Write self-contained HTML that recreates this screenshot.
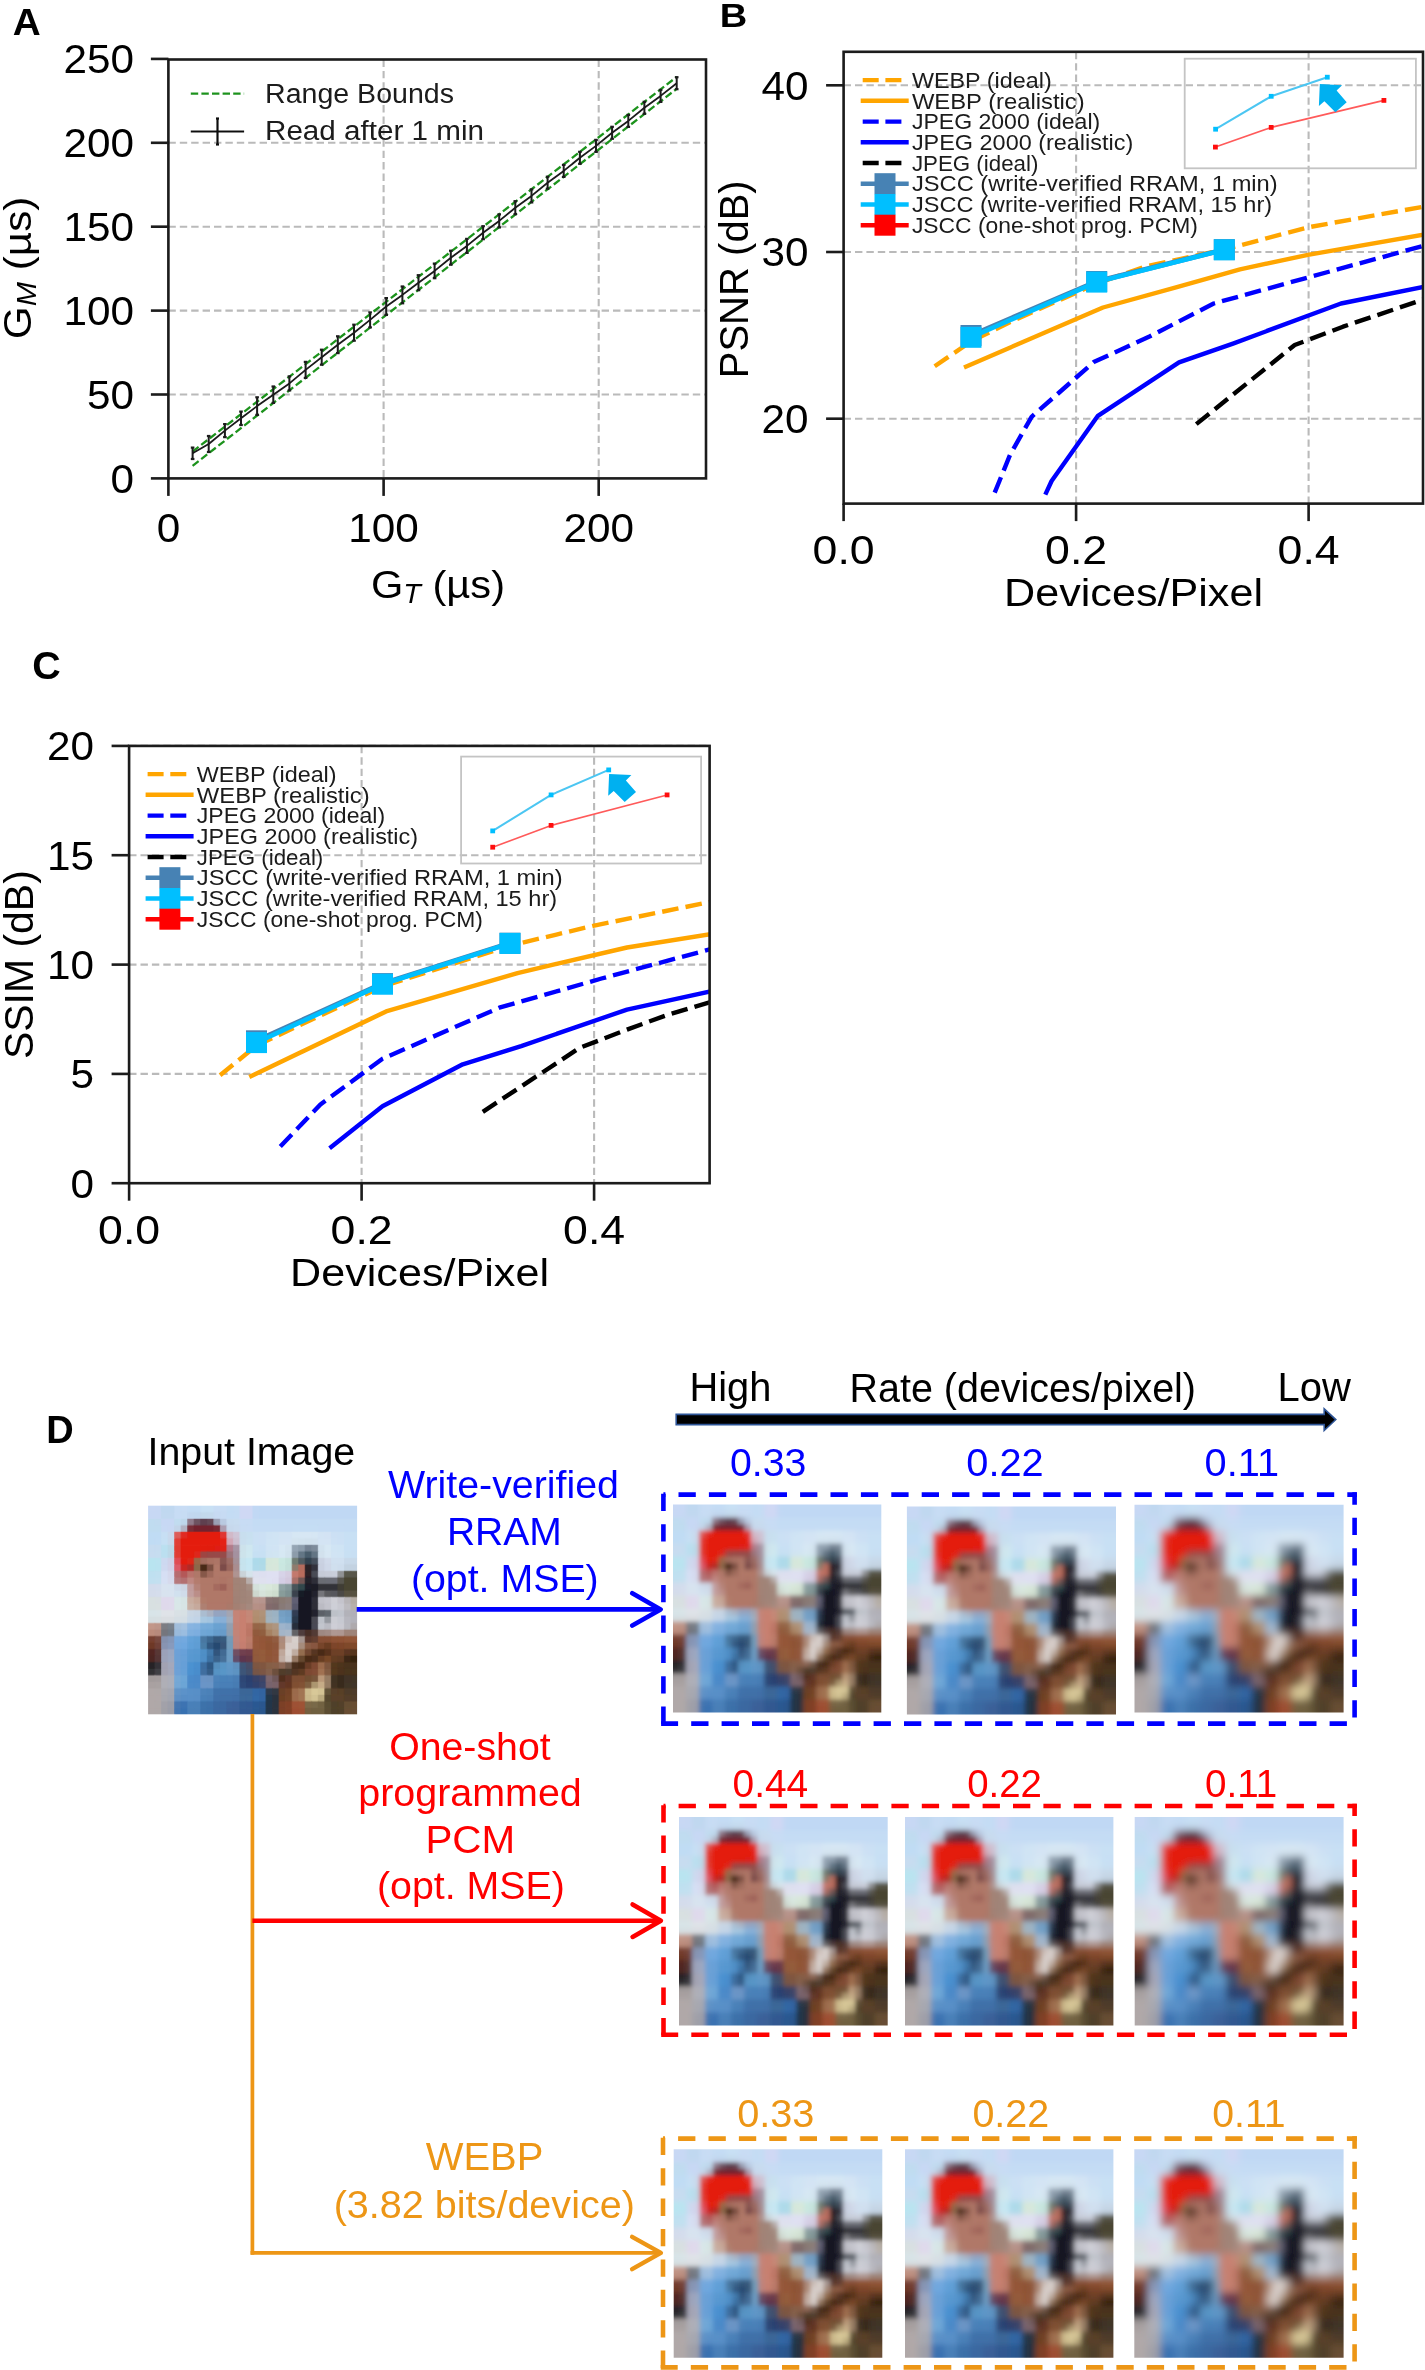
<!DOCTYPE html>
<html><head><meta charset="utf-8"><title>Figure</title>
<style>html,body{margin:0;padding:0;background:#fff;} svg{display:block;} text{font-family:"Liberation Sans", sans-serif;}</style>
</head><body>
<svg width="1425" height="2370" viewBox="0 0 1425 2370">
<rect x="0" y="0" width="1425" height="2370" fill="#fff"/>
<filter id="gblur" x="0" y="0" width="1425" height="2370" filterUnits="userSpaceOnUse"><feGaussianBlur stdDeviation="0.5"/></filter>
<g filter="url(#gblur)">

<clipPath id="clipA"><rect x="168.4" y="59.5" width="537.6" height="418.9"/></clipPath>
<line x1="383.6" y1="59.5" x2="383.6" y2="478.4" stroke="#bababa" stroke-width="2.1" stroke-dasharray="7.4 4"/>
<line x1="598.7" y1="59.5" x2="598.7" y2="478.4" stroke="#bababa" stroke-width="2.1" stroke-dasharray="7.4 4"/>
<line x1="168.4" y1="394.5" x2="706.0" y2="394.5" stroke="#bababa" stroke-width="2.1" stroke-dasharray="7.4 4"/>
<line x1="168.4" y1="310.6" x2="706.0" y2="310.6" stroke="#bababa" stroke-width="2.1" stroke-dasharray="7.4 4"/>
<line x1="168.4" y1="226.7" x2="706.0" y2="226.7" stroke="#bababa" stroke-width="2.1" stroke-dasharray="7.4 4"/>
<line x1="168.4" y1="142.8" x2="706.0" y2="142.8" stroke="#bababa" stroke-width="2.1" stroke-dasharray="7.4 4"/>
<polyline points="192.6,451.6 676.7,76.9" fill="none" stroke="#1f931f" stroke-width="2.3" stroke-linejoin="round" stroke-dasharray="7.6 3.3" clip-path="url(#clipA)"/>
<polyline points="192.6,465.8 676.7,88.8" fill="none" stroke="#1f931f" stroke-width="2.3" stroke-linejoin="round" stroke-dasharray="7.6 3.3" clip-path="url(#clipA)"/>
<polyline points="192.6,453.3 208.7,444.0 224.9,430.6 241.0,418.3 257.1,406.1 273.3,394.7 289.4,383.4 305.6,369.9 321.7,357.2 337.8,344.7 354.0,332.7 370.1,319.9 386.2,306.5 402.4,294.9 418.5,282.7 434.6,270.9 450.8,257.7 466.9,245.9 483.1,232.7 499.2,220.9 515.3,207.7 531.5,195.9 547.6,182.7 563.7,170.9 579.9,157.8 596.0,145.9 612.1,132.8 628.3,120.9 644.4,107.8 660.6,95.9 676.7,83.2" fill="none" stroke="#1a1a1a" stroke-width="1.8" stroke-linejoin="round" clip-path="url(#clipA)"/>
<line x1="192.6" y1="447.6" x2="192.6" y2="459.0" stroke="#1a1a1a" stroke-width="2.0"/>
<line x1="190.8" y1="447.6" x2="194.4" y2="447.6" stroke="#1a1a1a" stroke-width="2.2"/>
<line x1="190.8" y1="459.0" x2="194.4" y2="459.0" stroke="#1a1a1a" stroke-width="2.2"/>
<line x1="208.7" y1="436.0" x2="208.7" y2="452.0" stroke="#1a1a1a" stroke-width="2.0"/>
<line x1="206.9" y1="436.0" x2="210.5" y2="436.0" stroke="#1a1a1a" stroke-width="2.2"/>
<line x1="206.9" y1="452.0" x2="210.5" y2="452.0" stroke="#1a1a1a" stroke-width="2.2"/>
<line x1="224.9" y1="424.1" x2="224.9" y2="437.1" stroke="#1a1a1a" stroke-width="2.0"/>
<line x1="223.1" y1="424.1" x2="226.7" y2="424.1" stroke="#1a1a1a" stroke-width="2.2"/>
<line x1="223.1" y1="437.1" x2="226.7" y2="437.1" stroke="#1a1a1a" stroke-width="2.2"/>
<line x1="241.0" y1="411.6" x2="241.0" y2="425.0" stroke="#1a1a1a" stroke-width="2.0"/>
<line x1="239.2" y1="411.6" x2="242.8" y2="411.6" stroke="#1a1a1a" stroke-width="2.2"/>
<line x1="239.2" y1="425.0" x2="242.8" y2="425.0" stroke="#1a1a1a" stroke-width="2.2"/>
<line x1="257.1" y1="397.3" x2="257.1" y2="414.9" stroke="#1a1a1a" stroke-width="2.0"/>
<line x1="255.3" y1="397.3" x2="258.9" y2="397.3" stroke="#1a1a1a" stroke-width="2.2"/>
<line x1="255.3" y1="414.9" x2="258.9" y2="414.9" stroke="#1a1a1a" stroke-width="2.2"/>
<line x1="273.3" y1="386.5" x2="273.3" y2="402.9" stroke="#1a1a1a" stroke-width="2.0"/>
<line x1="271.5" y1="386.5" x2="275.1" y2="386.5" stroke="#1a1a1a" stroke-width="2.2"/>
<line x1="271.5" y1="402.9" x2="275.1" y2="402.9" stroke="#1a1a1a" stroke-width="2.2"/>
<line x1="289.4" y1="376.4" x2="289.4" y2="390.4" stroke="#1a1a1a" stroke-width="2.0"/>
<line x1="287.6" y1="376.4" x2="291.2" y2="376.4" stroke="#1a1a1a" stroke-width="2.2"/>
<line x1="287.6" y1="390.4" x2="291.2" y2="390.4" stroke="#1a1a1a" stroke-width="2.2"/>
<line x1="305.6" y1="361.9" x2="305.6" y2="377.9" stroke="#1a1a1a" stroke-width="2.0"/>
<line x1="303.8" y1="361.9" x2="307.4" y2="361.9" stroke="#1a1a1a" stroke-width="2.2"/>
<line x1="303.8" y1="377.9" x2="307.4" y2="377.9" stroke="#1a1a1a" stroke-width="2.2"/>
<line x1="321.7" y1="349.7" x2="321.7" y2="364.7" stroke="#1a1a1a" stroke-width="2.0"/>
<line x1="319.9" y1="349.7" x2="323.5" y2="349.7" stroke="#1a1a1a" stroke-width="2.2"/>
<line x1="319.9" y1="364.7" x2="323.5" y2="364.7" stroke="#1a1a1a" stroke-width="2.2"/>
<line x1="337.8" y1="336.3" x2="337.8" y2="353.1" stroke="#1a1a1a" stroke-width="2.0"/>
<line x1="336.0" y1="336.3" x2="339.6" y2="336.3" stroke="#1a1a1a" stroke-width="2.2"/>
<line x1="336.0" y1="353.1" x2="339.6" y2="353.1" stroke="#1a1a1a" stroke-width="2.2"/>
<line x1="354.0" y1="324.7" x2="354.0" y2="340.7" stroke="#1a1a1a" stroke-width="2.0"/>
<line x1="352.2" y1="324.7" x2="355.8" y2="324.7" stroke="#1a1a1a" stroke-width="2.2"/>
<line x1="352.2" y1="340.7" x2="355.8" y2="340.7" stroke="#1a1a1a" stroke-width="2.2"/>
<line x1="370.1" y1="312.4" x2="370.1" y2="327.4" stroke="#1a1a1a" stroke-width="2.0"/>
<line x1="368.3" y1="312.4" x2="371.9" y2="312.4" stroke="#1a1a1a" stroke-width="2.2"/>
<line x1="368.3" y1="327.4" x2="371.9" y2="327.4" stroke="#1a1a1a" stroke-width="2.2"/>
<line x1="386.2" y1="298.1" x2="386.2" y2="314.9" stroke="#1a1a1a" stroke-width="2.0"/>
<line x1="384.4" y1="298.1" x2="388.0" y2="298.1" stroke="#1a1a1a" stroke-width="2.2"/>
<line x1="384.4" y1="314.9" x2="388.0" y2="314.9" stroke="#1a1a1a" stroke-width="2.2"/>
<line x1="402.4" y1="286.5" x2="402.4" y2="303.3" stroke="#1a1a1a" stroke-width="2.0"/>
<line x1="400.6" y1="286.5" x2="404.2" y2="286.5" stroke="#1a1a1a" stroke-width="2.2"/>
<line x1="400.6" y1="303.3" x2="404.2" y2="303.3" stroke="#1a1a1a" stroke-width="2.2"/>
<line x1="418.5" y1="275.2" x2="418.5" y2="290.2" stroke="#1a1a1a" stroke-width="2.0"/>
<line x1="416.7" y1="275.2" x2="420.3" y2="275.2" stroke="#1a1a1a" stroke-width="2.2"/>
<line x1="416.7" y1="290.2" x2="420.3" y2="290.2" stroke="#1a1a1a" stroke-width="2.2"/>
<line x1="434.6" y1="263.6" x2="434.6" y2="278.2" stroke="#1a1a1a" stroke-width="2.0"/>
<line x1="432.8" y1="263.6" x2="436.4" y2="263.6" stroke="#1a1a1a" stroke-width="2.2"/>
<line x1="432.8" y1="278.2" x2="436.4" y2="278.2" stroke="#1a1a1a" stroke-width="2.2"/>
<line x1="450.8" y1="250.7" x2="450.8" y2="264.7" stroke="#1a1a1a" stroke-width="2.0"/>
<line x1="449.0" y1="250.7" x2="452.6" y2="250.7" stroke="#1a1a1a" stroke-width="2.2"/>
<line x1="449.0" y1="264.7" x2="452.6" y2="264.7" stroke="#1a1a1a" stroke-width="2.2"/>
<line x1="466.9" y1="238.9" x2="466.9" y2="252.9" stroke="#1a1a1a" stroke-width="2.0"/>
<line x1="465.1" y1="238.9" x2="468.7" y2="238.9" stroke="#1a1a1a" stroke-width="2.2"/>
<line x1="465.1" y1="252.9" x2="468.7" y2="252.9" stroke="#1a1a1a" stroke-width="2.2"/>
<line x1="483.1" y1="226.2" x2="483.1" y2="239.2" stroke="#1a1a1a" stroke-width="2.0"/>
<line x1="481.3" y1="226.2" x2="484.9" y2="226.2" stroke="#1a1a1a" stroke-width="2.2"/>
<line x1="481.3" y1="239.2" x2="484.9" y2="239.2" stroke="#1a1a1a" stroke-width="2.2"/>
<line x1="499.2" y1="214.4" x2="499.2" y2="227.4" stroke="#1a1a1a" stroke-width="2.0"/>
<line x1="497.4" y1="214.4" x2="501.0" y2="214.4" stroke="#1a1a1a" stroke-width="2.2"/>
<line x1="497.4" y1="227.4" x2="501.0" y2="227.4" stroke="#1a1a1a" stroke-width="2.2"/>
<line x1="515.3" y1="201.2" x2="515.3" y2="214.2" stroke="#1a1a1a" stroke-width="2.0"/>
<line x1="513.5" y1="201.2" x2="517.1" y2="201.2" stroke="#1a1a1a" stroke-width="2.2"/>
<line x1="513.5" y1="214.2" x2="517.1" y2="214.2" stroke="#1a1a1a" stroke-width="2.2"/>
<line x1="531.5" y1="189.4" x2="531.5" y2="202.4" stroke="#1a1a1a" stroke-width="2.0"/>
<line x1="529.7" y1="189.4" x2="533.3" y2="189.4" stroke="#1a1a1a" stroke-width="2.2"/>
<line x1="529.7" y1="202.4" x2="533.3" y2="202.4" stroke="#1a1a1a" stroke-width="2.2"/>
<line x1="547.6" y1="176.7" x2="547.6" y2="188.7" stroke="#1a1a1a" stroke-width="2.0"/>
<line x1="545.8" y1="176.7" x2="549.4" y2="176.7" stroke="#1a1a1a" stroke-width="2.2"/>
<line x1="545.8" y1="188.7" x2="549.4" y2="188.7" stroke="#1a1a1a" stroke-width="2.2"/>
<line x1="563.7" y1="164.9" x2="563.7" y2="176.9" stroke="#1a1a1a" stroke-width="2.0"/>
<line x1="561.9" y1="164.9" x2="565.5" y2="164.9" stroke="#1a1a1a" stroke-width="2.2"/>
<line x1="561.9" y1="176.9" x2="565.5" y2="176.9" stroke="#1a1a1a" stroke-width="2.2"/>
<line x1="579.9" y1="151.8" x2="579.9" y2="163.8" stroke="#1a1a1a" stroke-width="2.0"/>
<line x1="578.1" y1="151.8" x2="581.7" y2="151.8" stroke="#1a1a1a" stroke-width="2.2"/>
<line x1="578.1" y1="163.8" x2="581.7" y2="163.8" stroke="#1a1a1a" stroke-width="2.2"/>
<line x1="596.0" y1="139.9" x2="596.0" y2="151.9" stroke="#1a1a1a" stroke-width="2.0"/>
<line x1="594.2" y1="139.9" x2="597.8" y2="139.9" stroke="#1a1a1a" stroke-width="2.2"/>
<line x1="594.2" y1="151.9" x2="597.8" y2="151.9" stroke="#1a1a1a" stroke-width="2.2"/>
<line x1="612.1" y1="126.8" x2="612.1" y2="138.8" stroke="#1a1a1a" stroke-width="2.0"/>
<line x1="610.3" y1="126.8" x2="613.9" y2="126.8" stroke="#1a1a1a" stroke-width="2.2"/>
<line x1="610.3" y1="138.8" x2="613.9" y2="138.8" stroke="#1a1a1a" stroke-width="2.2"/>
<line x1="628.3" y1="114.9" x2="628.3" y2="126.9" stroke="#1a1a1a" stroke-width="2.0"/>
<line x1="626.5" y1="114.9" x2="630.1" y2="114.9" stroke="#1a1a1a" stroke-width="2.2"/>
<line x1="626.5" y1="126.9" x2="630.1" y2="126.9" stroke="#1a1a1a" stroke-width="2.2"/>
<line x1="644.4" y1="101.8" x2="644.4" y2="113.8" stroke="#1a1a1a" stroke-width="2.0"/>
<line x1="642.6" y1="101.8" x2="646.2" y2="101.8" stroke="#1a1a1a" stroke-width="2.2"/>
<line x1="642.6" y1="113.8" x2="646.2" y2="113.8" stroke="#1a1a1a" stroke-width="2.2"/>
<line x1="660.6" y1="89.9" x2="660.6" y2="101.9" stroke="#1a1a1a" stroke-width="2.0"/>
<line x1="658.8" y1="89.9" x2="662.4" y2="89.9" stroke="#1a1a1a" stroke-width="2.2"/>
<line x1="658.8" y1="101.9" x2="662.4" y2="101.9" stroke="#1a1a1a" stroke-width="2.2"/>
<line x1="676.7" y1="77.2" x2="676.7" y2="89.2" stroke="#1a1a1a" stroke-width="2.0"/>
<line x1="674.9" y1="77.2" x2="678.5" y2="77.2" stroke="#1a1a1a" stroke-width="2.2"/>
<line x1="674.9" y1="89.2" x2="678.5" y2="89.2" stroke="#1a1a1a" stroke-width="2.2"/>
<rect x="168.4" y="59.5" width="537.6" height="418.9" fill="none" stroke="#1a1a1a" stroke-width="2.6"/>
<line x1="168.4" y1="478.4" x2="168.4" y2="495.9" stroke="#1a1a1a" stroke-width="2.6"/>
<line x1="383.6" y1="478.4" x2="383.6" y2="495.9" stroke="#1a1a1a" stroke-width="2.6"/>
<line x1="598.7" y1="478.4" x2="598.7" y2="495.9" stroke="#1a1a1a" stroke-width="2.6"/>
<line x1="150.9" y1="478.4" x2="168.4" y2="478.4" stroke="#1a1a1a" stroke-width="2.6"/>
<line x1="150.9" y1="394.5" x2="168.4" y2="394.5" stroke="#1a1a1a" stroke-width="2.6"/>
<line x1="150.9" y1="310.6" x2="168.4" y2="310.6" stroke="#1a1a1a" stroke-width="2.6"/>
<line x1="150.9" y1="226.7" x2="168.4" y2="226.7" stroke="#1a1a1a" stroke-width="2.6"/>
<line x1="150.9" y1="142.8" x2="168.4" y2="142.8" stroke="#1a1a1a" stroke-width="2.6"/>
<line x1="150.9" y1="58.9" x2="168.4" y2="58.9" stroke="#1a1a1a" stroke-width="2.6"/>
<text x="134.0" y="492.8" font-size="40" fill="#000" text-anchor="end" textLength="23.5" lengthAdjust="spacingAndGlyphs">0</text>
<text x="134.0" y="408.9" font-size="40" fill="#000" text-anchor="end" textLength="47.0" lengthAdjust="spacingAndGlyphs">50</text>
<text x="134.0" y="325.0" font-size="40" fill="#000" text-anchor="end" textLength="70.5" lengthAdjust="spacingAndGlyphs">100</text>
<text x="134.0" y="241.1" font-size="40" fill="#000" text-anchor="end" textLength="70.5" lengthAdjust="spacingAndGlyphs">150</text>
<text x="134.0" y="157.2" font-size="40" fill="#000" text-anchor="end" textLength="70.5" lengthAdjust="spacingAndGlyphs">200</text>
<text x="134.0" y="73.3" font-size="40" fill="#000" text-anchor="end" textLength="70.5" lengthAdjust="spacingAndGlyphs">250</text>
<text x="168.4" y="541.5" font-size="40" fill="#000" text-anchor="middle" textLength="23.5" lengthAdjust="spacingAndGlyphs">0</text>
<text x="383.6" y="541.5" font-size="40" fill="#000" text-anchor="middle" textLength="70.5" lengthAdjust="spacingAndGlyphs">100</text>
<text x="598.7" y="541.5" font-size="40" fill="#000" text-anchor="middle" textLength="70.5" lengthAdjust="spacingAndGlyphs">200</text>
<text x="371" y="597.5" font-size="39" fill="#000" textLength="134" lengthAdjust="spacingAndGlyphs">G<tspan font-size="27" font-style="italic" dy="5">T</tspan><tspan dy="-5"> (µs)</tspan></text>
<text transform="translate(30.5,339.2) rotate(-90)" font-size="39" fill="#000" textLength="142.6" lengthAdjust="spacingAndGlyphs">G<tspan font-size="27" font-style="italic" dy="5">M</tspan><tspan dy="-5"> (µs)</tspan></text>
<line x1="190.8" y1="93.6" x2="244.1" y2="93.6" stroke="#1f931f" stroke-width="2.4" stroke-dasharray="7.4 3.2"/>
<line x1="190.8" y1="131.5" x2="244.1" y2="131.5" stroke="#111" stroke-width="2.2"/>
<line x1="217.5" y1="118.5" x2="217.5" y2="144.5" stroke="#111" stroke-width="2.2"/>
<line x1="216.0" y1="118.5" x2="219.0" y2="118.5" stroke="#111" stroke-width="2.2"/>
<line x1="216.0" y1="144.5" x2="219.0" y2="144.5" stroke="#111" stroke-width="2.2"/>
<text x="265.0" y="102.8" font-size="27" fill="#1a1a1a" text-anchor="start" textLength="189.0" lengthAdjust="spacingAndGlyphs">Range Bounds</text>
<text x="265.0" y="139.9" font-size="27" fill="#1a1a1a" text-anchor="start" textLength="219.0" lengthAdjust="spacingAndGlyphs">Read after 1 min</text>
<text x="12.8" y="35.4" font-size="37" fill="#000" text-anchor="start" font-weight="bold" textLength="28.0" lengthAdjust="spacingAndGlyphs">A</text>
<clipPath id="clipB"><rect x="843.6" y="51.8" width="579.4" height="451.8"/></clipPath>
<line x1="1076.1" y1="51.8" x2="1076.1" y2="503.6" stroke="#bababa" stroke-width="2.1" stroke-dasharray="7.4 4"/>
<line x1="1308.6" y1="51.8" x2="1308.6" y2="503.6" stroke="#bababa" stroke-width="2.1" stroke-dasharray="7.4 4"/>
<line x1="843.6" y1="418.7" x2="1423.0" y2="418.7" stroke="#bababa" stroke-width="2.1" stroke-dasharray="7.4 4"/>
<line x1="843.6" y1="252.0" x2="1423.0" y2="252.0" stroke="#bababa" stroke-width="2.1" stroke-dasharray="7.4 4"/>
<line x1="843.6" y1="85.3" x2="1423.0" y2="85.3" stroke="#bababa" stroke-width="2.1" stroke-dasharray="7.4 4"/>
<polyline points="934.7,366.3 971.0,341.5 1009.8,322.3 1096.7,283.5 1144.6,266.8 1224.3,249.5 1308.0,227.3 1430.0,205.5" fill="none" stroke="#ffa500" stroke-width="4.4" stroke-linejoin="round" stroke-dasharray="16.6 7.2" clip-path="url(#clipB)"/>
<polyline points="964.0,367.4 1103.0,307.5 1176.0,287.3 1240.0,269.3 1307.9,254.9 1430.0,233.5" fill="none" stroke="#ffa500" stroke-width="4.4" stroke-linejoin="round" clip-path="url(#clipB)"/>
<polyline points="994.7,492.6 1010.0,455.0 1031.6,416.8 1093.7,362.1 1150.0,336.3 1213.7,303.5 1307.9,277.5 1430.0,244.0" fill="none" stroke="#0000ff" stroke-width="4.4" stroke-linejoin="round" stroke-dasharray="16.6 7.2" clip-path="url(#clipB)"/>
<polyline points="1045.3,494.7 1051.6,481.0 1097.9,415.8 1179.0,362.4 1233.0,343.6 1341.0,303.5 1430.0,285.6" fill="none" stroke="#0000ff" stroke-width="4.4" stroke-linejoin="round" clip-path="url(#clipB)"/>
<polyline points="1196.3,424.1 1294.7,345.0 1343.0,326.7 1430.0,297.2" fill="none" stroke="#000" stroke-width="4.4" stroke-linejoin="round" stroke-dasharray="16.6 7.2" clip-path="url(#clipB)"/>
<polyline points="971.0,335.5 1096.7,281.5 1224.3,249.6" fill="none" stroke="#4682b4" stroke-width="5.0" stroke-linejoin="round" clip-path="url(#clipB)"/>
<rect x="960.5" y="325.0" width="21" height="21" fill="#4682b4"/>
<rect x="1086.2" y="271.0" width="21" height="21" fill="#4682b4"/>
<rect x="1213.8" y="239.1" width="21" height="21" fill="#4682b4"/>
<polyline points="971.0,337.3 1096.7,282.1 1224.3,249.8" fill="none" stroke="#00bfff" stroke-width="4.6" stroke-linejoin="round" clip-path="url(#clipB)"/>
<rect x="960.5" y="326.8" width="21" height="21" fill="#00bfff"/>
<rect x="1086.2" y="271.6" width="21" height="21" fill="#00bfff"/>
<rect x="1213.8" y="239.3" width="21" height="21" fill="#00bfff"/>
<line x1="862.7" y1="80.1" x2="901.4" y2="80.1" stroke="#ffa500" stroke-width="4.4" stroke-dasharray="16 6.7"/>
<text x="911.9" y="87.8" font-size="22" fill="#1a1a1a" text-anchor="start" textLength="139.8" lengthAdjust="spacingAndGlyphs">WEBP (ideal)</text>
<line x1="860.7" y1="100.8" x2="908.7" y2="100.8" stroke="#ffa500" stroke-width="4.4"/>
<text x="911.9" y="108.5" font-size="22" fill="#1a1a1a" text-anchor="start" textLength="172.8" lengthAdjust="spacingAndGlyphs">WEBP (realistic)</text>
<line x1="862.7" y1="121.6" x2="901.4" y2="121.6" stroke="#0000ff" stroke-width="4.4" stroke-dasharray="16 6.7"/>
<text x="911.9" y="129.3" font-size="22" fill="#1a1a1a" text-anchor="start" textLength="188.3" lengthAdjust="spacingAndGlyphs">JPEG 2000 (ideal)</text>
<line x1="860.7" y1="142.3" x2="908.7" y2="142.3" stroke="#0000ff" stroke-width="4.4"/>
<text x="911.9" y="150.0" font-size="22" fill="#1a1a1a" text-anchor="start" textLength="221.3" lengthAdjust="spacingAndGlyphs">JPEG 2000 (realistic)</text>
<line x1="862.7" y1="163.0" x2="901.4" y2="163.0" stroke="#000" stroke-width="4.4" stroke-dasharray="16 6.7"/>
<text x="911.9" y="170.7" font-size="22" fill="#1a1a1a" text-anchor="start" textLength="126.5" lengthAdjust="spacingAndGlyphs">JPEG (ideal)</text>
<line x1="860.7" y1="183.8" x2="908.7" y2="183.8" stroke="#4682b4" stroke-width="4.4"/>
<rect x="874.5" y="173.2" width="21" height="21" fill="#4682b4"/>
<text x="911.9" y="191.4" font-size="22" fill="#1a1a1a" text-anchor="start" textLength="365.8" lengthAdjust="spacingAndGlyphs">JSCC (write-verified RRAM, 1 min)</text>
<line x1="860.7" y1="204.5" x2="908.7" y2="204.5" stroke="#00bfff" stroke-width="4.4"/>
<rect x="874.5" y="194.0" width="21" height="21" fill="#00bfff"/>
<text x="911.9" y="212.2" font-size="22" fill="#1a1a1a" text-anchor="start" textLength="360.3" lengthAdjust="spacingAndGlyphs">JSCC (write-verified RRAM, 15 hr)</text>
<line x1="860.7" y1="225.2" x2="908.7" y2="225.2" stroke="red" stroke-width="4.4"/>
<rect x="874.5" y="214.7" width="21" height="21" fill="red"/>
<text x="911.9" y="232.9" font-size="22" fill="#1a1a1a" text-anchor="start" textLength="286.1" lengthAdjust="spacingAndGlyphs">JSCC (one-shot prog. PCM)</text>
<rect x="1184.7" y="58.7" width="231.20000000000005" height="109.60000000000001" fill="none" stroke="#c4c4c4" stroke-width="1.8"/>
<polyline points="1215.6,129.2 1271.2,96.3 1327.3,77.2" fill="none" stroke="#4cc6f2" stroke-width="2.0" stroke-linejoin="round"/>
<rect x="1213.2" y="126.8" width="4.8" height="4.8" fill="#00bfff"/>
<rect x="1268.8" y="93.9" width="4.8" height="4.8" fill="#00bfff"/>
<rect x="1324.9" y="74.8" width="4.8" height="4.8" fill="#00bfff"/>
<polyline points="1215.4,147.1 1271.2,127.4 1383.9,100.4" fill="none" stroke="#ff5a5a" stroke-width="1.6" stroke-linejoin="round"/>
<rect x="1213.0" y="144.7" width="4.8" height="4.8" fill="#ff1010"/>
<rect x="1268.8" y="125.0" width="4.8" height="4.8" fill="#ff1010"/>
<rect x="1381.5" y="98.0" width="4.8" height="4.8" fill="#ff1010"/>
<polygon points="1319.8,84.1 1342.1,85.2 1336.6,90.6 1346.7,102.2 1335.4,112.3 1324.4,101.2 1318.9,106.0" fill="#00b0f0"/>
<rect x="843.6" y="51.8" width="579.4" height="451.8" fill="none" stroke="#1a1a1a" stroke-width="2.6"/>
<line x1="843.6" y1="503.6" x2="843.6" y2="521.1" stroke="#1a1a1a" stroke-width="2.6"/>
<text x="843.6" y="564.1" font-size="40" fill="#000" text-anchor="middle" textLength="62.0" lengthAdjust="spacingAndGlyphs">0.0</text>
<line x1="1076.1" y1="503.6" x2="1076.1" y2="521.1" stroke="#1a1a1a" stroke-width="2.6"/>
<text x="1076.1" y="564.1" font-size="40" fill="#000" text-anchor="middle" textLength="62.0" lengthAdjust="spacingAndGlyphs">0.2</text>
<line x1="1308.6" y1="503.6" x2="1308.6" y2="521.1" stroke="#1a1a1a" stroke-width="2.6"/>
<text x="1308.6" y="564.1" font-size="40" fill="#000" text-anchor="middle" textLength="62.0" lengthAdjust="spacingAndGlyphs">0.4</text>
<line x1="826.1" y1="418.7" x2="843.6" y2="418.7" stroke="#1a1a1a" stroke-width="2.6"/>
<text x="808.6" y="433.1" font-size="40" fill="#000" text-anchor="end" textLength="47.0" lengthAdjust="spacingAndGlyphs">20</text>
<line x1="826.1" y1="252.0" x2="843.6" y2="252.0" stroke="#1a1a1a" stroke-width="2.6"/>
<text x="808.6" y="266.4" font-size="40" fill="#000" text-anchor="end" textLength="47.0" lengthAdjust="spacingAndGlyphs">30</text>
<line x1="826.1" y1="85.3" x2="843.6" y2="85.3" stroke="#1a1a1a" stroke-width="2.6"/>
<text x="808.6" y="99.7" font-size="40" fill="#000" text-anchor="end" textLength="47.0" lengthAdjust="spacingAndGlyphs">40</text>
<text x="1004.0" y="606.2" font-size="39" fill="#000" text-anchor="start" textLength="259.0" lengthAdjust="spacingAndGlyphs">Devices/Pixel</text>
<text transform="translate(747.5,378.3) rotate(-90)" font-size="40" fill="#000" textLength="198" lengthAdjust="spacingAndGlyphs">PSNR (dB)</text>
<text x="719.8" y="27.4" font-size="33" fill="#000" text-anchor="start" font-weight="bold" textLength="27.5" lengthAdjust="spacingAndGlyphs">B</text>
<clipPath id="clipC"><rect x="129.1" y="745.9" width="580.5" height="437.30000000000007"/></clipPath>
<line x1="361.6" y1="745.9" x2="361.6" y2="1183.2" stroke="#bababa" stroke-width="2.1" stroke-dasharray="7.4 4"/>
<line x1="594.1" y1="745.9" x2="594.1" y2="1183.2" stroke="#bababa" stroke-width="2.1" stroke-dasharray="7.4 4"/>
<line x1="129.1" y1="1073.9" x2="709.6" y2="1073.9" stroke="#bababa" stroke-width="2.1" stroke-dasharray="7.4 4"/>
<line x1="129.1" y1="964.6" x2="709.6" y2="964.6" stroke="#bababa" stroke-width="2.1" stroke-dasharray="7.4 4"/>
<line x1="129.1" y1="855.2" x2="709.6" y2="855.2" stroke="#bababa" stroke-width="2.1" stroke-dasharray="7.4 4"/>
<line x1="129.1" y1="745.9" x2="709.6" y2="745.9" stroke="#bababa" stroke-width="2.1" stroke-dasharray="7.4 4"/>
<polyline points="220.1,1075.3 256.5,1045.5 382.5,986.5 510.2,945.5 594.2,925.6 715.0,901.0" fill="none" stroke="#ffa500" stroke-width="4.4" stroke-linejoin="round" stroke-dasharray="16.6 7.2" clip-path="url(#clipC)"/>
<polyline points="249.3,1077.1 386.1,1011.4 517.5,973.1 627.0,947.5 715.0,933.5" fill="none" stroke="#ffa500" stroke-width="4.4" stroke-linejoin="round" clip-path="url(#clipC)"/>
<polyline points="280.3,1146.4 320.4,1104.5 382.5,1058.8 499.3,1007.7 601.5,978.5 715.0,948.0" fill="none" stroke="#0000ff" stroke-width="4.4" stroke-linejoin="round" stroke-dasharray="16.6 7.2" clip-path="url(#clipC)"/>
<polyline points="329.6,1148.2 382.5,1106.3 462.8,1064.3 521.2,1046.1 627.0,1009.6 715.0,990.5" fill="none" stroke="#0000ff" stroke-width="4.4" stroke-linejoin="round" clip-path="url(#clipC)"/>
<polyline points="482.8,1111.8 579.6,1047.9 627.0,1029.6 667.2,1015.0 715.0,1000.8" fill="none" stroke="#000" stroke-width="4.4" stroke-linejoin="round" stroke-dasharray="16.6 7.2" clip-path="url(#clipC)"/>
<polyline points="256.5,1040.8 382.5,983.6 510.0,943.2" fill="none" stroke="#4682b4" stroke-width="5.0" stroke-linejoin="round" clip-path="url(#clipC)"/>
<rect x="246.0" y="1030.3" width="21" height="21" fill="#4682b4"/>
<rect x="372.0" y="973.1" width="21" height="21" fill="#4682b4"/>
<rect x="499.5" y="932.7" width="21" height="21" fill="#4682b4"/>
<polyline points="256.5,1042.6 382.5,984.2 510.0,943.4" fill="none" stroke="#00bfff" stroke-width="4.6" stroke-linejoin="round" clip-path="url(#clipC)"/>
<rect x="246.0" y="1032.1" width="21" height="21" fill="#00bfff"/>
<rect x="372.0" y="973.7" width="21" height="21" fill="#00bfff"/>
<rect x="499.5" y="932.9" width="21" height="21" fill="#00bfff"/>
<line x1="147.6" y1="774.1" x2="186.3" y2="774.1" stroke="#ffa500" stroke-width="4.4" stroke-dasharray="16 6.7"/>
<text x="196.8" y="781.8" font-size="22" fill="#1a1a1a" text-anchor="start" textLength="139.8" lengthAdjust="spacingAndGlyphs">WEBP (ideal)</text>
<line x1="145.6" y1="794.8" x2="193.6" y2="794.8" stroke="#ffa500" stroke-width="4.4"/>
<text x="196.8" y="802.5" font-size="22" fill="#1a1a1a" text-anchor="start" textLength="172.8" lengthAdjust="spacingAndGlyphs">WEBP (realistic)</text>
<line x1="147.6" y1="815.6" x2="186.3" y2="815.6" stroke="#0000ff" stroke-width="4.4" stroke-dasharray="16 6.7"/>
<text x="196.8" y="823.3" font-size="22" fill="#1a1a1a" text-anchor="start" textLength="188.3" lengthAdjust="spacingAndGlyphs">JPEG 2000 (ideal)</text>
<line x1="145.6" y1="836.3" x2="193.6" y2="836.3" stroke="#0000ff" stroke-width="4.4"/>
<text x="196.8" y="844.0" font-size="22" fill="#1a1a1a" text-anchor="start" textLength="221.3" lengthAdjust="spacingAndGlyphs">JPEG 2000 (realistic)</text>
<line x1="147.6" y1="857.0" x2="186.3" y2="857.0" stroke="#000" stroke-width="4.4" stroke-dasharray="16 6.7"/>
<text x="196.8" y="864.7" font-size="22" fill="#1a1a1a" text-anchor="start" textLength="126.5" lengthAdjust="spacingAndGlyphs">JPEG (ideal)</text>
<line x1="145.6" y1="877.7" x2="193.6" y2="877.7" stroke="#4682b4" stroke-width="4.4"/>
<rect x="159.4" y="867.2" width="21" height="21" fill="#4682b4"/>
<text x="196.8" y="885.4" font-size="22" fill="#1a1a1a" text-anchor="start" textLength="365.8" lengthAdjust="spacingAndGlyphs">JSCC (write-verified RRAM, 1 min)</text>
<line x1="145.6" y1="898.5" x2="193.6" y2="898.5" stroke="#00bfff" stroke-width="4.4"/>
<rect x="159.4" y="888.0" width="21" height="21" fill="#00bfff"/>
<text x="196.8" y="906.2" font-size="22" fill="#1a1a1a" text-anchor="start" textLength="360.3" lengthAdjust="spacingAndGlyphs">JSCC (write-verified RRAM, 15 hr)</text>
<line x1="145.6" y1="919.2" x2="193.6" y2="919.2" stroke="red" stroke-width="4.4"/>
<rect x="159.4" y="908.7" width="21" height="21" fill="red"/>
<text x="196.8" y="926.9" font-size="22" fill="#1a1a1a" text-anchor="start" textLength="286.1" lengthAdjust="spacingAndGlyphs">JSCC (one-shot prog. PCM)</text>
<rect x="461.1" y="756.6" width="240.0" height="106.89999999999998" fill="none" stroke="#c4c4c4" stroke-width="1.8"/>
<polyline points="492.7,830.9 551.1,794.9 608.7,769.9" fill="none" stroke="#4cc6f2" stroke-width="2.0" stroke-linejoin="round"/>
<rect x="490.3" y="828.5" width="4.8" height="4.8" fill="#00bfff"/>
<rect x="548.7" y="792.5" width="4.8" height="4.8" fill="#00bfff"/>
<rect x="606.3" y="767.5" width="4.8" height="4.8" fill="#00bfff"/>
<polyline points="492.7,847.2 551.1,825.4 667.1,794.9" fill="none" stroke="#ff5a5a" stroke-width="1.6" stroke-linejoin="round"/>
<rect x="490.3" y="844.8" width="4.8" height="4.8" fill="#ff1010"/>
<rect x="548.7" y="823.0" width="4.8" height="4.8" fill="#ff1010"/>
<rect x="664.7" y="792.5" width="4.8" height="4.8" fill="#ff1010"/>
<polygon points="609.1,773.9 631.4,775.0 625.9,780.4 636.0,792.0 624.7,802.1 613.7,791.0 608.2,795.8" fill="#00b0f0"/>
<rect x="129.1" y="745.9" width="580.5" height="437.30000000000007" fill="none" stroke="#1a1a1a" stroke-width="2.6"/>
<line x1="129.1" y1="1183.2" x2="129.1" y2="1200.7" stroke="#1a1a1a" stroke-width="2.6"/>
<text x="129.1" y="1243.7" font-size="40" fill="#000" text-anchor="middle" textLength="62.0" lengthAdjust="spacingAndGlyphs">0.0</text>
<line x1="361.6" y1="1183.2" x2="361.6" y2="1200.7" stroke="#1a1a1a" stroke-width="2.6"/>
<text x="361.6" y="1243.7" font-size="40" fill="#000" text-anchor="middle" textLength="62.0" lengthAdjust="spacingAndGlyphs">0.2</text>
<line x1="594.1" y1="1183.2" x2="594.1" y2="1200.7" stroke="#1a1a1a" stroke-width="2.6"/>
<text x="594.1" y="1243.7" font-size="40" fill="#000" text-anchor="middle" textLength="62.0" lengthAdjust="spacingAndGlyphs">0.4</text>
<line x1="111.6" y1="1183.2" x2="129.1" y2="1183.2" stroke="#1a1a1a" stroke-width="2.6"/>
<text x="94.1" y="1197.6" font-size="40" fill="#000" text-anchor="end" textLength="23.5" lengthAdjust="spacingAndGlyphs">0</text>
<line x1="111.6" y1="1073.9" x2="129.1" y2="1073.9" stroke="#1a1a1a" stroke-width="2.6"/>
<text x="94.1" y="1088.3" font-size="40" fill="#000" text-anchor="end" textLength="23.5" lengthAdjust="spacingAndGlyphs">5</text>
<line x1="111.6" y1="964.6" x2="129.1" y2="964.6" stroke="#1a1a1a" stroke-width="2.6"/>
<text x="94.1" y="979.0" font-size="40" fill="#000" text-anchor="end" textLength="47.0" lengthAdjust="spacingAndGlyphs">10</text>
<line x1="111.6" y1="855.2" x2="129.1" y2="855.2" stroke="#1a1a1a" stroke-width="2.6"/>
<text x="94.1" y="869.6" font-size="40" fill="#000" text-anchor="end" textLength="47.0" lengthAdjust="spacingAndGlyphs">15</text>
<line x1="111.6" y1="745.9" x2="129.1" y2="745.9" stroke="#1a1a1a" stroke-width="2.6"/>
<text x="94.1" y="760.3" font-size="40" fill="#000" text-anchor="end" textLength="47.0" lengthAdjust="spacingAndGlyphs">20</text>
<text x="290.0" y="1286.0" font-size="39" fill="#000" text-anchor="start" textLength="259.0" lengthAdjust="spacingAndGlyphs">Devices/Pixel</text>
<text transform="translate(33,1059) rotate(-90)" font-size="40" fill="#000" textLength="188.8" lengthAdjust="spacingAndGlyphs">SSIM (dB)</text>
<text x="32.2" y="679.0" font-size="38" fill="#000" text-anchor="start" font-weight="bold" textLength="28.5" lengthAdjust="spacingAndGlyphs">C</text>
<defs>
<g id="photo"><rect x="-2" y="-2" width="3.12" height="1.12" fill="#c8d8f4"/><rect x="1" y="-2" width="1.12" height="1.12" fill="#c7d8f4"/><rect x="2" y="-2" width="2.12" height="1.12" fill="#c0d8f0"/><rect x="4" y="-2" width="1.12" height="1.12" fill="#c7dcf4"/><rect x="5" y="-2" width="1.12" height="1.12" fill="#c8dcf4"/><rect x="6" y="-2" width="2.12" height="1.12" fill="#c4dcf4"/><rect x="8" y="-2" width="2.12" height="1.12" fill="#c8e0f4"/><rect x="10" y="-2" width="2.12" height="1.12" fill="#c8dcf4"/><rect x="12" y="-2" width="1.12" height="1.12" fill="#c4dcf4"/><rect x="13" y="-2" width="1.12" height="1.12" fill="#c5dcf4"/><rect x="14" y="-2" width="2.12" height="1.12" fill="#cfd8f4"/><rect x="16" y="-2" width="1.12" height="1.12" fill="#c1d8f4"/><rect x="17" y="-2" width="17.12" height="1.12" fill="#c0d8f4"/><rect x="-2" y="-1" width="3.12" height="1.12" fill="#c8d8f4"/><rect x="1" y="-1" width="1.12" height="1.12" fill="#c7d8f4"/><rect x="2" y="-1" width="2.12" height="1.12" fill="#c0d8f0"/><rect x="4" y="-1" width="1.12" height="1.12" fill="#c7dcf4"/><rect x="5" y="-1" width="1.12" height="1.12" fill="#c8dcf4"/><rect x="6" y="-1" width="2.12" height="1.12" fill="#c4dcf4"/><rect x="8" y="-1" width="2.12" height="1.12" fill="#c8e0f4"/><rect x="10" y="-1" width="2.12" height="1.12" fill="#c8dcf4"/><rect x="12" y="-1" width="1.12" height="1.12" fill="#c4dcf4"/><rect x="13" y="-1" width="1.12" height="1.12" fill="#c5dcf4"/><rect x="14" y="-1" width="2.12" height="1.12" fill="#cfd8f4"/><rect x="16" y="-1" width="1.12" height="1.12" fill="#c1d8f4"/><rect x="17" y="-1" width="17.12" height="1.12" fill="#c0d8f4"/><rect x="-2" y="0" width="3.12" height="1.12" fill="#c8d8f4"/><rect x="1" y="0" width="1.12" height="1.12" fill="#c7d8f4"/><rect x="2" y="0" width="2.12" height="1.12" fill="#c0d8f0"/><rect x="4" y="0" width="1.12" height="1.12" fill="#c7dcf4"/><rect x="5" y="0" width="1.12" height="1.12" fill="#c8dcf4"/><rect x="6" y="0" width="2.12" height="1.12" fill="#c4dcf4"/><rect x="8" y="0" width="2.12" height="1.12" fill="#c8e0f4"/><rect x="10" y="0" width="2.12" height="1.12" fill="#c8dcf4"/><rect x="12" y="0" width="1.12" height="1.12" fill="#c4dcf4"/><rect x="13" y="0" width="1.12" height="1.12" fill="#c5dcf4"/><rect x="14" y="0" width="2.12" height="1.12" fill="#cfd8f4"/><rect x="16" y="0" width="1.12" height="1.12" fill="#c1d8f4"/><rect x="17" y="0" width="17.12" height="1.12" fill="#c0d8f4"/><rect x="-2" y="1" width="4.12" height="1.12" fill="#c7d8f4"/><rect x="2" y="1" width="2.12" height="1.12" fill="#c1d8f0"/><rect x="4" y="1" width="1.12" height="1.12" fill="#c7dcf4"/><rect x="5" y="1" width="1.12" height="1.12" fill="#c7dcf3"/><rect x="6" y="1" width="1.12" height="1.12" fill="#c2d7ef"/><rect x="7" y="1" width="1.12" height="1.12" fill="#c1d7ee"/><rect x="8" y="1" width="1.12" height="1.12" fill="#c3d9ec"/><rect x="9" y="1" width="1.12" height="1.12" fill="#c4d9ed"/><rect x="10" y="1" width="1.12" height="1.12" fill="#c7daf2"/><rect x="11" y="1" width="1.12" height="1.12" fill="#c7dbf3"/><rect x="12" y="1" width="1.12" height="1.12" fill="#c4dcf4"/><rect x="13" y="1" width="1.12" height="1.12" fill="#c5dcf4"/><rect x="14" y="1" width="2.12" height="1.12" fill="#cfd8f4"/><rect x="16" y="1" width="1.12" height="1.12" fill="#c1d8f4"/><rect x="17" y="1" width="17.12" height="1.12" fill="#c0d8f4"/><rect x="-2" y="2" width="3.12" height="1.12" fill="#c0dcf0"/><rect x="1" y="2" width="1.12" height="1.12" fill="#c1dbf0"/><rect x="2" y="2" width="2.12" height="1.12" fill="#c7d8f4"/><rect x="4" y="2" width="1.12" height="1.12" fill="#c1dcf0"/><rect x="5" y="2" width="1.12" height="1.12" fill="#bed7eb"/><rect x="6" y="2" width="1.12" height="1.12" fill="#8f7a8a"/><rect x="7" y="2" width="1.12" height="1.12" fill="#6d5261"/><rect x="8" y="2" width="1.12" height="1.12" fill="#5e404f"/><rect x="9" y="2" width="1.12" height="1.12" fill="#654857"/><rect x="10" y="2" width="1.12" height="1.12" fill="#9ba1b5"/><rect x="11" y="2" width="1.12" height="1.12" fill="#b9cae1"/><rect x="12" y="2" width="1.12" height="1.12" fill="#c7dbef"/><rect x="13" y="2" width="1.12" height="1.12" fill="#c8dcf0"/><rect x="14" y="2" width="2.12" height="1.12" fill="#c8dcf4"/><rect x="16" y="2" width="18.12" height="1.12" fill="#c4dcf4"/><rect x="-2" y="3" width="4.12" height="1.12" fill="#c0dcf0"/><rect x="2" y="3" width="1.12" height="1.12" fill="#c7d9f4"/><rect x="3" y="3" width="1.12" height="1.12" fill="#c8d8f3"/><rect x="4" y="3" width="1.12" height="1.12" fill="#c3d5e9"/><rect x="5" y="3" width="1.12" height="1.12" fill="#b2b2c2"/><rect x="6" y="3" width="1.12" height="1.12" fill="#792f39"/><rect x="7" y="3" width="3.12" height="1.12" fill="#73242f"/><rect x="10" y="3" width="1.12" height="1.12" fill="#772b36"/><rect x="11" y="3" width="1.12" height="1.12" fill="#ac9eb1"/><rect x="12" y="3" width="1.12" height="1.12" fill="#c7d8ec"/><rect x="13" y="3" width="1.12" height="1.12" fill="#c8daee"/><rect x="14" y="3" width="1.12" height="1.12" fill="#c8dcf3"/><rect x="15" y="3" width="1.12" height="1.12" fill="#c8dcf4"/><rect x="16" y="3" width="6.12" height="1.12" fill="#c5dcf4"/><rect x="22" y="3" width="4.12" height="1.12" fill="#c5ddf4"/><rect x="26" y="3" width="4.12" height="1.12" fill="#c5dcf4"/><rect x="30" y="3" width="4.12" height="1.12" fill="#c4dcf4"/><rect x="-2" y="4" width="4.12" height="1.12" fill="#c0dcf4"/><rect x="2" y="4" width="1.12" height="1.12" fill="#c7dff4"/><rect x="3" y="4" width="1.12" height="1.12" fill="#cad9ed"/><rect x="4" y="4" width="1.12" height="1.12" fill="#dd5c59"/><rect x="5" y="4" width="1.12" height="1.12" fill="#e12c22"/><rect x="6" y="4" width="1.12" height="1.12" fill="#e31c0e"/><rect x="7" y="4" width="4.12" height="1.12" fill="#e31c0d"/><rect x="11" y="4" width="1.12" height="1.12" fill="#e03631"/><rect x="12" y="4" width="1.12" height="1.12" fill="#d1b9c8"/><rect x="13" y="4" width="1.12" height="1.12" fill="#cfc4d5"/><rect x="14" y="4" width="1.12" height="1.12" fill="#c8deee"/><rect x="15" y="4" width="1.12" height="1.12" fill="#c8e0f0"/><rect x="16" y="4" width="1.12" height="1.12" fill="#cbe0f4"/><rect x="17" y="4" width="1.12" height="1.12" fill="#cce0f4"/><rect x="18" y="4" width="1.12" height="1.12" fill="#cfe3f4"/><rect x="19" y="4" width="1.12" height="1.12" fill="#d0e4f4"/><rect x="20" y="4" width="2.12" height="1.12" fill="#d3e4f4"/><rect x="22" y="4" width="1.12" height="1.12" fill="#d6e7f4"/><rect x="23" y="4" width="2.12" height="1.12" fill="#d7e7f4"/><rect x="25" y="4" width="1.12" height="1.12" fill="#d6e7f4"/><rect x="26" y="4" width="1.12" height="1.12" fill="#d3e4f4"/><rect x="27" y="4" width="1.12" height="1.12" fill="#d3e3f4"/><rect x="28" y="4" width="1.12" height="1.12" fill="#cce0f4"/><rect x="29" y="4" width="1.12" height="1.12" fill="#cbe0f4"/><rect x="30" y="4" width="4.12" height="1.12" fill="#c8e0f4"/><rect x="-2" y="5" width="3.12" height="1.12" fill="#c0dcf4"/><rect x="1" y="5" width="1.12" height="1.12" fill="#c1dcf4"/><rect x="2" y="5" width="1.12" height="1.12" fill="#c6e0f4"/><rect x="3" y="5" width="1.12" height="1.12" fill="#c9d9ec"/><rect x="4" y="5" width="1.12" height="1.12" fill="#e13e36"/><rect x="5" y="5" width="6.12" height="1.12" fill="#e41c0d"/><rect x="11" y="5" width="1.12" height="1.12" fill="#e42115"/><rect x="12" y="5" width="1.12" height="1.12" fill="#d2a7b5"/><rect x="13" y="5" width="1.12" height="1.12" fill="#cdbfcf"/><rect x="14" y="5" width="1.12" height="1.12" fill="#c9deee"/><rect x="15" y="5" width="1.12" height="1.12" fill="#c9e1f0"/><rect x="16" y="5" width="1.12" height="1.12" fill="#cbe0f4"/><rect x="17" y="5" width="1.12" height="1.12" fill="#cce0f4"/><rect x="18" y="5" width="2.12" height="1.12" fill="#d0e4f4"/><rect x="20" y="5" width="2.12" height="1.12" fill="#d4e4f4"/><rect x="22" y="5" width="1.12" height="1.12" fill="#d4e4f0"/><rect x="23" y="5" width="1.12" height="1.12" fill="#d3e3ef"/><rect x="24" y="5" width="1.12" height="1.12" fill="#d2e2ee"/><rect x="25" y="5" width="1.12" height="1.12" fill="#d2e2ef"/><rect x="26" y="5" width="2.12" height="1.12" fill="#d4e4f4"/><rect x="28" y="5" width="1.12" height="1.12" fill="#cde1f4"/><rect x="29" y="5" width="1.12" height="1.12" fill="#cce0f4"/><rect x="30" y="5" width="4.12" height="1.12" fill="#c8e0f4"/><rect x="-2" y="6" width="3.12" height="1.12" fill="#c7dcf0"/><rect x="1" y="6" width="1.12" height="1.12" fill="#c6dcf0"/><rect x="2" y="6" width="1.12" height="1.12" fill="#bae0f0"/><rect x="3" y="6" width="1.12" height="1.12" fill="#bcd9e8"/><rect x="4" y="6" width="1.12" height="1.12" fill="#e13a31"/><rect x="5" y="6" width="3.12" height="1.12" fill="#e41c0d"/><rect x="8" y="6" width="1.12" height="1.12" fill="#e21e11"/><rect x="9" y="6" width="1.12" height="1.12" fill="#e11f11"/><rect x="10" y="6" width="1.12" height="1.12" fill="#e01f12"/><rect x="11" y="6" width="1.12" height="1.12" fill="#df2317"/><rect x="12" y="6" width="1.12" height="1.12" fill="#b17c8a"/><rect x="13" y="6" width="1.12" height="1.12" fill="#a795a4"/><rect x="14" y="6" width="1.12" height="1.12" fill="#cde2eb"/><rect x="15" y="6" width="1.12" height="1.12" fill="#cfe7f0"/><rect x="16" y="6" width="1.12" height="1.12" fill="#c9e1f4"/><rect x="17" y="6" width="1.12" height="1.12" fill="#c9e0f4"/><rect x="18" y="6" width="1.12" height="1.12" fill="#d0e4f4"/><rect x="19" y="6" width="1.12" height="1.12" fill="#d1e4f4"/><rect x="20" y="6" width="1.12" height="1.12" fill="#d7e8f4"/><rect x="21" y="6" width="1.12" height="1.12" fill="#d4e4f0"/><rect x="22" y="6" width="1.12" height="1.12" fill="#95a5b4"/><rect x="23" y="6" width="1.12" height="1.12" fill="#8d9dac"/><rect x="24" y="6" width="1.12" height="1.12" fill="#768494"/><rect x="25" y="6" width="1.12" height="1.12" fill="#7e8c9b"/><rect x="26" y="6" width="1.12" height="1.12" fill="#d2e2ef"/><rect x="27" y="6" width="1.12" height="1.12" fill="#d7e8f4"/><rect x="28" y="6" width="1.12" height="1.12" fill="#d0e4f4"/><rect x="29" y="6" width="1.12" height="1.12" fill="#cfe4f4"/><rect x="30" y="6" width="4.12" height="1.12" fill="#c8e0f4"/><rect x="-2" y="7" width="3.12" height="1.12" fill="#c7dcf0"/><rect x="1" y="7" width="1.12" height="1.12" fill="#c6ddf0"/><rect x="2" y="7" width="1.12" height="1.12" fill="#bbdff0"/><rect x="3" y="7" width="1.12" height="1.12" fill="#bdd8e8"/><rect x="4" y="7" width="1.12" height="1.12" fill="#e03e36"/><rect x="5" y="7" width="2.12" height="1.12" fill="#e41c0d"/><rect x="7" y="7" width="1.12" height="1.12" fill="#de281a"/><rect x="8" y="7" width="1.12" height="1.12" fill="#9f4543"/><rect x="9" y="7" width="1.12" height="1.12" fill="#974846"/><rect x="10" y="7" width="1.12" height="1.12" fill="#974a48"/><rect x="11" y="7" width="1.12" height="1.12" fill="#974c49"/><rect x="12" y="7" width="1.12" height="1.12" fill="#9c747c"/><rect x="13" y="7" width="1.12" height="1.12" fill="#a4919f"/><rect x="14" y="7" width="1.12" height="1.12" fill="#cde3eb"/><rect x="15" y="7" width="1.12" height="1.12" fill="#cfe8f0"/><rect x="16" y="7" width="1.12" height="1.12" fill="#c6e0f3"/><rect x="17" y="7" width="1.12" height="1.12" fill="#c7e0f3"/><rect x="18" y="7" width="1.12" height="1.12" fill="#d0e4f2"/><rect x="19" y="7" width="1.12" height="1.12" fill="#d1e5f2"/><rect x="20" y="7" width="1.12" height="1.12" fill="#d6e8f3"/><rect x="21" y="7" width="1.12" height="1.12" fill="#d2e3ee"/><rect x="22" y="7" width="1.12" height="1.12" fill="#8c9caa"/><rect x="23" y="7" width="1.12" height="1.12" fill="#637685"/><rect x="24" y="7" width="1.12" height="1.12" fill="#485d6c"/><rect x="25" y="7" width="1.12" height="1.12" fill="#647584"/><rect x="26" y="7" width="1.12" height="1.12" fill="#d2e1ed"/><rect x="27" y="7" width="1.12" height="1.12" fill="#d7e7f3"/><rect x="28" y="7" width="1.12" height="1.12" fill="#d1e4f4"/><rect x="29" y="7" width="1.12" height="1.12" fill="#d0e4f4"/><rect x="30" y="7" width="1.12" height="1.12" fill="#c8e0f3"/><rect x="31" y="7" width="3.12" height="1.12" fill="#c8dff3"/><rect x="-2" y="8" width="3.12" height="1.12" fill="#b9e4f0"/><rect x="1" y="8" width="1.12" height="1.12" fill="#bbe3f0"/><rect x="2" y="8" width="1.12" height="1.12" fill="#cdd9f0"/><rect x="3" y="8" width="1.12" height="1.12" fill="#d0d2e9"/><rect x="4" y="8" width="1.12" height="1.12" fill="#e04c54"/><rect x="5" y="8" width="1.12" height="1.12" fill="#e41c0d"/><rect x="6" y="8" width="1.12" height="1.12" fill="#df2516"/><rect x="7" y="8" width="1.12" height="1.12" fill="#9b6647"/><rect x="8" y="8" width="1.12" height="1.12" fill="#a26c5d"/><rect x="9" y="8" width="1.12" height="1.12" fill="#aa7263"/><rect x="10" y="8" width="1.12" height="1.12" fill="#ad7566"/><rect x="11" y="8" width="1.12" height="1.12" fill="#895651"/><rect x="12" y="8" width="1.12" height="1.12" fill="#9d6c65"/><rect x="13" y="8" width="1.12" height="1.12" fill="#a49097"/><rect x="14" y="8" width="1.12" height="1.12" fill="#c6e3ee"/><rect x="15" y="8" width="1.12" height="1.12" fill="#c6e7f3"/><rect x="16" y="8" width="1.12" height="1.12" fill="#addaea"/><rect x="17" y="8" width="1.12" height="1.12" fill="#aedae8"/><rect x="18" y="8" width="1.12" height="1.12" fill="#d5e7db"/><rect x="19" y="8" width="1.12" height="1.12" fill="#d6e8db"/><rect x="20" y="8" width="1.12" height="1.12" fill="#cae8e1"/><rect x="21" y="8" width="1.12" height="1.12" fill="#c4e2db"/><rect x="22" y="8" width="1.12" height="1.12" fill="#6f7d73"/><rect x="23" y="8" width="1.12" height="1.12" fill="#505b62"/><rect x="24" y="8" width="1.12" height="1.12" fill="#33424f"/><rect x="25" y="8" width="1.12" height="1.12" fill="#45505d"/><rect x="26" y="8" width="1.12" height="1.12" fill="#cad2e2"/><rect x="27" y="8" width="1.12" height="1.12" fill="#d1daea"/><rect x="28" y="8" width="2.12" height="1.12" fill="#d0e0f0"/><rect x="30" y="8" width="1.12" height="1.12" fill="#c8d9ea"/><rect x="31" y="8" width="3.12" height="1.12" fill="#c8d9e9"/><rect x="-2" y="9" width="3.12" height="1.12" fill="#b9e4f0"/><rect x="1" y="9" width="1.12" height="1.12" fill="#bae3f0"/><rect x="2" y="9" width="1.12" height="1.12" fill="#cfd9f0"/><rect x="3" y="9" width="1.12" height="1.12" fill="#d2d2e9"/><rect x="4" y="9" width="1.12" height="1.12" fill="#dc5b6a"/><rect x="5" y="9" width="1.12" height="1.12" fill="#cb2724"/><rect x="6" y="9" width="1.12" height="1.12" fill="#b12c26"/><rect x="7" y="9" width="1.12" height="1.12" fill="#8c684a"/><rect x="8" y="9" width="1.12" height="1.12" fill="#492a19"/><rect x="9" y="9" width="1.12" height="1.12" fill="#7c5042"/><rect x="10" y="9" width="1.12" height="1.12" fill="#b07868"/><rect x="11" y="9" width="1.12" height="1.12" fill="#7c4c4a"/><rect x="12" y="9" width="1.12" height="1.12" fill="#99655b"/><rect x="13" y="9" width="1.12" height="1.12" fill="#a98d8f"/><rect x="14" y="9" width="1.12" height="1.12" fill="#c7e3ee"/><rect x="15" y="9" width="1.12" height="1.12" fill="#c7e7f3"/><rect x="16" y="9" width="1.12" height="1.12" fill="#afdaea"/><rect x="17" y="9" width="1.12" height="1.12" fill="#b0dae8"/><rect x="18" y="9" width="1.12" height="1.12" fill="#d6e7db"/><rect x="19" y="9" width="1.12" height="1.12" fill="#d7e7db"/><rect x="20" y="9" width="1.12" height="1.12" fill="#cae7e0"/><rect x="21" y="9" width="1.12" height="1.12" fill="#c4e0da"/><rect x="22" y="9" width="1.12" height="1.12" fill="#8e7b6d"/><rect x="23" y="9" width="1.12" height="1.12" fill="#b46c5d"/><rect x="24" y="9" width="1.12" height="1.12" fill="#2c2028"/><rect x="25" y="9" width="1.12" height="1.12" fill="#33333e"/><rect x="26" y="9" width="1.12" height="1.12" fill="#c9d0e0"/><rect x="27" y="9" width="1.12" height="1.12" fill="#cfd8e8"/><rect x="28" y="9" width="1.12" height="1.12" fill="#d0dfee"/><rect x="29" y="9" width="1.12" height="1.12" fill="#cedded"/><rect x="30" y="9" width="1.12" height="1.12" fill="#c3d3e2"/><rect x="31" y="9" width="3.12" height="1.12" fill="#c3d2e1"/><rect x="-2" y="10" width="3.12" height="1.12" fill="#bfe0f0"/><rect x="1" y="10" width="1.12" height="1.12" fill="#c1e0f0"/><rect x="2" y="10" width="1.12" height="1.12" fill="#d6dff4"/><rect x="3" y="10" width="1.12" height="1.12" fill="#d5d9ed"/><rect x="4" y="10" width="1.12" height="1.12" fill="#b76c70"/><rect x="5" y="10" width="1.12" height="1.12" fill="#b45959"/><rect x="6" y="10" width="1.12" height="1.12" fill="#b9736c"/><rect x="7" y="10" width="1.12" height="1.12" fill="#af7869"/><rect x="8" y="10" width="1.12" height="1.12" fill="#865849"/><rect x="9" y="10" width="1.12" height="1.12" fill="#9f6b5c"/><rect x="10" y="10" width="3.12" height="1.12" fill="#b07868"/><rect x="13" y="10" width="1.12" height="1.12" fill="#af9491"/><rect x="14" y="10" width="1.12" height="1.12" fill="#cad3d8"/><rect x="15" y="10" width="1.12" height="1.12" fill="#d5e3eb"/><rect x="16" y="10" width="1.12" height="1.12" fill="#dce0ef"/><rect x="17" y="10" width="1.12" height="1.12" fill="#dddff0"/><rect x="18" y="10" width="2.12" height="1.12" fill="#dfe0f2"/><rect x="20" y="10" width="1.12" height="1.12" fill="#d7d3e8"/><rect x="21" y="10" width="1.12" height="1.12" fill="#d5cde1"/><rect x="22" y="10" width="1.12" height="1.12" fill="#c3796e"/><rect x="23" y="10" width="1.12" height="1.12" fill="#b96c5d"/><rect x="24" y="10" width="1.12" height="1.12" fill="#2d2028"/><rect x="25" y="10" width="1.12" height="1.12" fill="#494b55"/><rect x="26" y="10" width="1.12" height="1.12" fill="#c6cbd7"/><rect x="27" y="10" width="1.12" height="1.12" fill="#c8cdd9"/><rect x="28" y="10" width="1.12" height="1.12" fill="#c9ceda"/><rect x="29" y="10" width="1.12" height="1.12" fill="#909294"/><rect x="30" y="10" width="1.12" height="1.12" fill="#59584b"/><rect x="31" y="10" width="3.12" height="1.12" fill="#59574a"/><rect x="-2" y="11" width="3.12" height="1.12" fill="#c1e0f0"/><rect x="1" y="11" width="1.12" height="1.12" fill="#c3e0f0"/><rect x="2" y="11" width="1.12" height="1.12" fill="#d6e0f4"/><rect x="3" y="11" width="1.12" height="1.12" fill="#d6daed"/><rect x="4" y="11" width="1.12" height="1.12" fill="#b5787c"/><rect x="5" y="11" width="1.12" height="1.12" fill="#b36f71"/><rect x="6" y="11" width="1.12" height="1.12" fill="#bf8781"/><rect x="7" y="11" width="1.12" height="1.12" fill="#b47c6e"/><rect x="8" y="11" width="2.12" height="1.12" fill="#b07868"/><rect x="10" y="11" width="1.12" height="1.12" fill="#af7767"/><rect x="11" y="11" width="1.12" height="1.12" fill="#ae7566"/><rect x="12" y="11" width="1.12" height="1.12" fill="#af7969"/><rect x="13" y="11" width="1.12" height="1.12" fill="#a28377"/><rect x="14" y="11" width="1.12" height="1.12" fill="#a1867a"/><rect x="15" y="11" width="1.12" height="1.12" fill="#b7adaa"/><rect x="16" y="11" width="1.12" height="1.12" fill="#dfe1ee"/><rect x="17" y="11" width="1.12" height="1.12" fill="#dfe1ef"/><rect x="18" y="11" width="1.12" height="1.12" fill="#dfe1f2"/><rect x="19" y="11" width="1.12" height="1.12" fill="#dfdff1"/><rect x="20" y="11" width="1.12" height="1.12" fill="#d4cee5"/><rect x="21" y="11" width="1.12" height="1.12" fill="#d2c8dd"/><rect x="22" y="11" width="1.12" height="1.12" fill="#a96f69"/><rect x="23" y="11" width="1.12" height="1.12" fill="#715754"/><rect x="24" y="11" width="1.12" height="1.12" fill="#232029"/><rect x="25" y="11" width="1.12" height="1.12" fill="#2e2f39"/><rect x="26" y="11" width="1.12" height="1.12" fill="#6a6c73"/><rect x="27" y="11" width="2.12" height="1.12" fill="#6a6c74"/><rect x="29" y="11" width="1.12" height="1.12" fill="#585750"/><rect x="30" y="11" width="4.12" height="1.12" fill="#494532"/><rect x="-2" y="12" width="3.12" height="1.12" fill="#d3dcec"/><rect x="1" y="12" width="1.12" height="1.12" fill="#d3dded"/><rect x="2" y="12" width="1.12" height="1.12" fill="#d8e3f0"/><rect x="3" y="12" width="1.12" height="1.12" fill="#d7e3f0"/><rect x="4" y="12" width="1.12" height="1.12" fill="#cfdaea"/><rect x="5" y="12" width="1.12" height="1.12" fill="#cdd6e4"/><rect x="6" y="12" width="1.12" height="1.12" fill="#c19c9d"/><rect x="7" y="12" width="1.12" height="1.12" fill="#b68379"/><rect x="8" y="12" width="2.12" height="1.12" fill="#b07868"/><rect x="10" y="12" width="1.12" height="1.12" fill="#a56b5f"/><rect x="11" y="12" width="1.12" height="1.12" fill="#9e6259"/><rect x="12" y="12" width="1.12" height="1.12" fill="#ae7767"/><rect x="13" y="12" width="1.12" height="1.12" fill="#a28376"/><rect x="14" y="12" width="1.12" height="1.12" fill="#a08478"/><rect x="15" y="12" width="1.12" height="1.12" fill="#a48d82"/><rect x="16" y="12" width="1.12" height="1.12" fill="#d4e1db"/><rect x="17" y="12" width="1.12" height="1.12" fill="#d9e8e1"/><rect x="18" y="12" width="1.12" height="1.12" fill="#d9e8db"/><rect x="19" y="12" width="1.12" height="1.12" fill="#d4e3d6"/><rect x="20" y="12" width="1.12" height="1.12" fill="#8fa3a4"/><rect x="21" y="12" width="1.12" height="1.12" fill="#85989b"/><rect x="22" y="12" width="1.12" height="1.12" fill="#48545a"/><rect x="23" y="12" width="1.12" height="1.12" fill="#30464c"/><rect x="24" y="12" width="1.12" height="1.12" fill="#1a1e29"/><rect x="25" y="12" width="1.12" height="1.12" fill="#1c1c27"/><rect x="26" y="12" width="3.12" height="1.12" fill="#323238"/><rect x="29" y="12" width="1.12" height="1.12" fill="#403d34"/><rect x="30" y="12" width="4.12" height="1.12" fill="#494532"/><rect x="-2" y="13" width="3.12" height="1.12" fill="#d4dceb"/><rect x="1" y="13" width="1.12" height="1.12" fill="#d5ddec"/><rect x="2" y="13" width="1.12" height="1.12" fill="#d8e3ef"/><rect x="3" y="13" width="1.12" height="1.12" fill="#d8e3f0"/><rect x="4" y="13" width="1.12" height="1.12" fill="#d1e1ef"/><rect x="5" y="13" width="1.12" height="1.12" fill="#d0dcea"/><rect x="6" y="13" width="1.12" height="1.12" fill="#c29f9f"/><rect x="7" y="13" width="1.12" height="1.12" fill="#bb8e88"/><rect x="8" y="13" width="5.12" height="1.12" fill="#b07868"/><rect x="13" y="13" width="1.12" height="1.12" fill="#a28276"/><rect x="14" y="13" width="1.12" height="1.12" fill="#a08478"/><rect x="15" y="13" width="1.12" height="1.12" fill="#a2877b"/><rect x="16" y="13" width="1.12" height="1.12" fill="#ced7ce"/><rect x="17" y="13" width="1.12" height="1.12" fill="#d6e3da"/><rect x="18" y="13" width="1.12" height="1.12" fill="#d3e1d3"/><rect x="19" y="13" width="1.12" height="1.12" fill="#ceddce"/><rect x="20" y="13" width="1.12" height="1.12" fill="#889c9a"/><rect x="21" y="13" width="1.12" height="1.12" fill="#7e9293"/><rect x="22" y="13" width="1.12" height="1.12" fill="#3a434d"/><rect x="23" y="13" width="1.12" height="1.12" fill="#181b26"/><rect x="24" y="13" width="1.12" height="1.12" fill="#161723"/><rect x="25" y="13" width="1.12" height="1.12" fill="#23232d"/><rect x="26" y="13" width="1.12" height="1.12" fill="#75757a"/><rect x="27" y="13" width="1.12" height="1.12" fill="#5a5a5d"/><rect x="28" y="13" width="1.12" height="1.12" fill="#57575c"/><rect x="29" y="13" width="1.12" height="1.12" fill="#4b4a46"/><rect x="30" y="13" width="1.12" height="1.12" fill="#565140"/><rect x="31" y="13" width="3.12" height="1.12" fill="#56513f"/><rect x="-2" y="14" width="3.12" height="1.12" fill="#d8e0e1"/><rect x="1" y="14" width="1.12" height="1.12" fill="#d8dfe2"/><rect x="2" y="14" width="1.12" height="1.12" fill="#dfd9ec"/><rect x="3" y="14" width="1.12" height="1.12" fill="#dfdaec"/><rect x="4" y="14" width="1.12" height="1.12" fill="#d8e7e9"/><rect x="5" y="14" width="1.12" height="1.12" fill="#d6e4e4"/><rect x="6" y="14" width="1.12" height="1.12" fill="#c9ac9f"/><rect x="7" y="14" width="1.12" height="1.12" fill="#c5a393"/><rect x="8" y="14" width="1.12" height="1.12" fill="#b17b6b"/><rect x="9" y="14" width="3.12" height="1.12" fill="#b07868"/><rect x="12" y="14" width="1.12" height="1.12" fill="#af7868"/><rect x="13" y="14" width="1.12" height="1.12" fill="#a18175"/><rect x="14" y="14" width="1.12" height="1.12" fill="#a08478"/><rect x="15" y="14" width="1.12" height="1.12" fill="#a2867a"/><rect x="16" y="14" width="1.12" height="1.12" fill="#b8968e"/><rect x="17" y="14" width="1.12" height="1.12" fill="#b7958e"/><rect x="18" y="14" width="1.12" height="1.12" fill="#87716f"/><rect x="19" y="14" width="1.12" height="1.12" fill="#836f6d"/><rect x="20" y="14" width="1.12" height="1.12" fill="#897a73"/><rect x="21" y="14" width="1.12" height="1.12" fill="#8b7d79"/><rect x="22" y="14" width="1.12" height="1.12" fill="#605f73"/><rect x="23" y="14" width="2.12" height="1.12" fill="#161622"/><rect x="25" y="14" width="1.12" height="1.12" fill="#2e2f39"/><rect x="26" y="14" width="1.12" height="1.12" fill="#c1c1c9"/><rect x="27" y="14" width="1.12" height="1.12" fill="#c5c5cd"/><rect x="28" y="14" width="1.12" height="1.12" fill="#cfcfd6"/><rect x="29" y="14" width="1.12" height="1.12" fill="#c5c4cc"/><rect x="30" y="14" width="1.12" height="1.12" fill="#b8b5b8"/><rect x="31" y="14" width="3.12" height="1.12" fill="#b3aba3"/><rect x="-2" y="15" width="3.12" height="1.12" fill="#d8e0e1"/><rect x="1" y="15" width="1.12" height="1.12" fill="#d9e0e1"/><rect x="2" y="15" width="1.12" height="1.12" fill="#dfd9eb"/><rect x="3" y="15" width="1.12" height="1.12" fill="#dfdaec"/><rect x="4" y="15" width="1.12" height="1.12" fill="#d9e7e8"/><rect x="5" y="15" width="1.12" height="1.12" fill="#d7e4e4"/><rect x="6" y="15" width="1.12" height="1.12" fill="#c9b1a5"/><rect x="7" y="15" width="1.12" height="1.12" fill="#c6a99c"/><rect x="8" y="15" width="1.12" height="1.12" fill="#ae8072"/><rect x="9" y="15" width="3.12" height="1.12" fill="#b07869"/><rect x="12" y="15" width="1.12" height="1.12" fill="#ab796a"/><rect x="13" y="15" width="1.12" height="1.12" fill="#a48073"/><rect x="14" y="15" width="1.12" height="1.12" fill="#a68478"/><rect x="15" y="15" width="1.12" height="1.12" fill="#a5897e"/><rect x="16" y="15" width="1.12" height="1.12" fill="#b69086"/><rect x="17" y="15" width="1.12" height="1.12" fill="#b48e85"/><rect x="18" y="15" width="1.12" height="1.12" fill="#826b6c"/><rect x="19" y="15" width="1.12" height="1.12" fill="#7e6a6b"/><rect x="20" y="15" width="1.12" height="1.12" fill="#887a77"/><rect x="21" y="15" width="1.12" height="1.12" fill="#8a7e7e"/><rect x="22" y="15" width="1.12" height="1.12" fill="#59596c"/><rect x="23" y="15" width="2.12" height="1.12" fill="#161622"/><rect x="25" y="15" width="1.12" height="1.12" fill="#2e2e38"/><rect x="26" y="15" width="1.12" height="1.12" fill="#bbbbc3"/><rect x="27" y="15" width="1.12" height="1.12" fill="#c3c3cb"/><rect x="28" y="15" width="1.12" height="1.12" fill="#cecfd7"/><rect x="29" y="15" width="1.12" height="1.12" fill="#c9c9d1"/><rect x="30" y="15" width="1.12" height="1.12" fill="#bdbbc0"/><rect x="31" y="15" width="3.12" height="1.12" fill="#b7b0aa"/><rect x="-2" y="16" width="3.12" height="1.12" fill="#d8e4e8"/><rect x="1" y="16" width="1.12" height="1.12" fill="#d9e4e8"/><rect x="2" y="16" width="2.12" height="1.12" fill="#dfe3e8"/><rect x="4" y="16" width="1.12" height="1.12" fill="#d9e1e5"/><rect x="5" y="16" width="1.12" height="1.12" fill="#d7e0e4"/><rect x="6" y="16" width="1.12" height="1.12" fill="#c9d6e4"/><rect x="7" y="16" width="1.12" height="1.12" fill="#c6d4e3"/><rect x="8" y="16" width="1.12" height="1.12" fill="#abbdd0"/><rect x="9" y="16" width="1.12" height="1.12" fill="#a9b2c3"/><rect x="10" y="16" width="1.12" height="1.12" fill="#95a4c0"/><rect x="11" y="16" width="1.12" height="1.12" fill="#93a4c0"/><rect x="12" y="16" width="1.12" height="1.12" fill="#a4a5b1"/><rect x="13" y="16" width="1.12" height="1.12" fill="#c48477"/><rect x="14" y="16" width="1.12" height="1.12" fill="#c78171"/><rect x="15" y="16" width="1.12" height="1.12" fill="#c48878"/><rect x="16" y="16" width="1.12" height="1.12" fill="#b28f72"/><rect x="17" y="16" width="1.12" height="1.12" fill="#b09379"/><rect x="18" y="16" width="1.12" height="1.12" fill="#9fb1be"/><rect x="19" y="16" width="1.12" height="1.12" fill="#9bb2c3"/><rect x="20" y="16" width="1.12" height="1.12" fill="#759fc3"/><rect x="21" y="16" width="1.12" height="1.12" fill="#6f9abf"/><rect x="22" y="16" width="1.12" height="1.12" fill="#303e53"/><rect x="23" y="16" width="2.12" height="1.12" fill="#161622"/><rect x="25" y="16" width="1.12" height="1.12" fill="#22232d"/><rect x="26" y="16" width="1.12" height="1.12" fill="#5b6167"/><rect x="27" y="16" width="1.12" height="1.12" fill="#62686f"/><rect x="28" y="16" width="1.12" height="1.12" fill="#bdc1c8"/><rect x="29" y="16" width="1.12" height="1.12" fill="#c0c4cc"/><rect x="30" y="16" width="1.12" height="1.12" fill="#b2b2b9"/><rect x="31" y="16" width="3.12" height="1.12" fill="#b1b0b7"/><rect x="-2" y="17" width="3.12" height="1.12" fill="#d6dfe2"/><rect x="1" y="17" width="1.12" height="1.12" fill="#d7dfe2"/><rect x="2" y="17" width="2.12" height="1.12" fill="#dadee2"/><rect x="4" y="17" width="1.12" height="1.12" fill="#d5dee4"/><rect x="5" y="17" width="1.12" height="1.12" fill="#d3dde4"/><rect x="6" y="17" width="1.12" height="1.12" fill="#c5d6e7"/><rect x="7" y="17" width="1.12" height="1.12" fill="#c2d4e7"/><rect x="8" y="17" width="1.12" height="1.12" fill="#a7c7e0"/><rect x="9" y="17" width="1.12" height="1.12" fill="#a3c4df"/><rect x="10" y="17" width="1.12" height="1.12" fill="#88b1d8"/><rect x="11" y="17" width="1.12" height="1.12" fill="#88afd6"/><rect x="12" y="17" width="1.12" height="1.12" fill="#a0adbd"/><rect x="13" y="17" width="1.12" height="1.12" fill="#c58478"/><rect x="14" y="17" width="1.12" height="1.12" fill="#c88070"/><rect x="15" y="17" width="1.12" height="1.12" fill="#c68776"/><rect x="16" y="17" width="1.12" height="1.12" fill="#b08d6e"/><rect x="17" y="17" width="1.12" height="1.12" fill="#ad9075"/><rect x="18" y="17" width="1.12" height="1.12" fill="#a2b3be"/><rect x="19" y="17" width="1.12" height="1.12" fill="#9eb4c4"/><rect x="20" y="17" width="1.12" height="1.12" fill="#77a3c8"/><rect x="21" y="17" width="1.12" height="1.12" fill="#719ec4"/><rect x="22" y="17" width="1.12" height="1.12" fill="#29384b"/><rect x="23" y="17" width="2.12" height="1.12" fill="#161622"/><rect x="25" y="17" width="1.12" height="1.12" fill="#494a53"/><rect x="26" y="17" width="1.12" height="1.12" fill="#bdc1c9"/><rect x="27" y="17" width="1.12" height="1.12" fill="#969aa1"/><rect x="28" y="17" width="1.12" height="1.12" fill="#cccdd4"/><rect x="29" y="17" width="1.12" height="1.12" fill="#c7c9d1"/><rect x="30" y="17" width="1.12" height="1.12" fill="#b7b7bf"/><rect x="31" y="17" width="3.12" height="1.12" fill="#b2b2ba"/><rect x="-2" y="18" width="3.12" height="1.12" fill="#c29789"/><rect x="1" y="18" width="1.12" height="1.12" fill="#bd9589"/><rect x="2" y="18" width="1.12" height="1.12" fill="#7c7d83"/><rect x="3" y="18" width="1.12" height="1.12" fill="#79818b"/><rect x="4" y="18" width="1.12" height="1.12" fill="#a2bedb"/><rect x="5" y="18" width="1.12" height="1.12" fill="#a3c1e0"/><rect x="6" y="18" width="1.12" height="1.12" fill="#88b4e1"/><rect x="7" y="18" width="1.12" height="1.12" fill="#85b3e0"/><rect x="8" y="18" width="1.12" height="1.12" fill="#76abd9"/><rect x="9" y="18" width="1.12" height="1.12" fill="#74aad8"/><rect x="10" y="18" width="1.12" height="1.12" fill="#6ba2d1"/><rect x="11" y="18" width="1.12" height="1.12" fill="#6ea1cf"/><rect x="12" y="18" width="1.12" height="1.12" fill="#92a0b1"/><rect x="13" y="18" width="1.12" height="1.12" fill="#c38377"/><rect x="14" y="18" width="1.12" height="1.12" fill="#c88070"/><rect x="15" y="18" width="1.12" height="1.12" fill="#be7867"/><rect x="16" y="18" width="1.12" height="1.12" fill="#966547"/><rect x="17" y="18" width="1.12" height="1.12" fill="#956849"/><rect x="18" y="18" width="1.12" height="1.12" fill="#ad9075"/><rect x="19" y="18" width="1.12" height="1.12" fill="#ae9680"/><rect x="20" y="18" width="1.12" height="1.12" fill="#9eb4cb"/><rect x="21" y="18" width="1.12" height="1.12" fill="#98b0c9"/><rect x="22" y="18" width="1.12" height="1.12" fill="#282e3b"/><rect x="23" y="18" width="2.12" height="1.12" fill="#161622"/><rect x="25" y="18" width="1.12" height="1.12" fill="#494a54"/><rect x="26" y="18" width="1.12" height="1.12" fill="#c2c5cd"/><rect x="27" y="18" width="1.12" height="1.12" fill="#babbc3"/><rect x="28" y="18" width="1.12" height="1.12" fill="#ceced6"/><rect x="29" y="18" width="1.12" height="1.12" fill="#cacad2"/><rect x="30" y="18" width="1.12" height="1.12" fill="#b8b8bf"/><rect x="31" y="18" width="3.12" height="1.12" fill="#aeaaad"/><rect x="-2" y="19" width="3.12" height="1.12" fill="#bc8c7c"/><rect x="1" y="19" width="1.12" height="1.12" fill="#b78a7c"/><rect x="2" y="19" width="1.12" height="1.12" fill="#74757d"/><rect x="3" y="19" width="1.12" height="1.12" fill="#717a86"/><rect x="4" y="19" width="1.12" height="1.12" fill="#9abadb"/><rect x="5" y="19" width="1.12" height="1.12" fill="#9bbde0"/><rect x="6" y="19" width="1.12" height="1.12" fill="#80b0df"/><rect x="7" y="19" width="1.12" height="1.12" fill="#7daedf"/><rect x="8" y="19" width="1.12" height="1.12" fill="#6fa6d5"/><rect x="9" y="19" width="1.12" height="1.12" fill="#6da5d4"/><rect x="10" y="19" width="1.12" height="1.12" fill="#669dcc"/><rect x="11" y="19" width="1.12" height="1.12" fill="#689cc9"/><rect x="12" y="19" width="1.12" height="1.12" fill="#8e9fb1"/><rect x="13" y="19" width="1.12" height="1.12" fill="#c38478"/><rect x="14" y="19" width="1.12" height="1.12" fill="#c88070"/><rect x="15" y="19" width="1.12" height="1.12" fill="#bc7665"/><rect x="16" y="19" width="1.12" height="1.12" fill="#915a3c"/><rect x="17" y="19" width="1.12" height="1.12" fill="#915e3f"/><rect x="18" y="19" width="1.12" height="1.12" fill="#a78262"/><rect x="19" y="19" width="1.12" height="1.12" fill="#ad8f74"/><rect x="20" y="19" width="1.12" height="1.12" fill="#a4b5c8"/><rect x="21" y="19" width="1.12" height="1.12" fill="#a8b7c8"/><rect x="22" y="19" width="1.12" height="1.12" fill="#646266"/><rect x="23" y="19" width="1.12" height="1.12" fill="#4f3e3e"/><rect x="24" y="19" width="1.12" height="1.12" fill="#472d28"/><rect x="25" y="19" width="1.12" height="1.12" fill="#533a35"/><rect x="26" y="19" width="1.12" height="1.12" fill="#9e8882"/><rect x="27" y="19" width="1.12" height="1.12" fill="#a28c86"/><rect x="28" y="19" width="1.12" height="1.12" fill="#af9892"/><rect x="29" y="19" width="1.12" height="1.12" fill="#ae9791"/><rect x="30" y="19" width="1.12" height="1.12" fill="#9f8479"/><rect x="31" y="19" width="3.12" height="1.12" fill="#9e8479"/><rect x="-2" y="20" width="3.12" height="1.12" fill="#774130"/><rect x="1" y="20" width="1.12" height="1.12" fill="#784940"/><rect x="2" y="20" width="1.12" height="1.12" fill="#8591ae"/><rect x="3" y="20" width="1.12" height="1.12" fill="#8597b8"/><rect x="4" y="20" width="1.12" height="1.12" fill="#75a8dd"/><rect x="5" y="20" width="1.12" height="1.12" fill="#73a9df"/><rect x="6" y="20" width="1.12" height="1.12" fill="#64a2d9"/><rect x="7" y="20" width="1.12" height="1.12" fill="#619fd5"/><rect x="8" y="20" width="1.12" height="1.12" fill="#4978a2"/><rect x="9" y="20" width="1.12" height="1.12" fill="#3e6890"/><rect x="10" y="20" width="1.12" height="1.12" fill="#35587c"/><rect x="11" y="20" width="1.12" height="1.12" fill="#395b7e"/><rect x="12" y="20" width="1.12" height="1.12" fill="#749bb8"/><rect x="13" y="20" width="1.12" height="1.12" fill="#c0847b"/><rect x="14" y="20" width="1.12" height="1.12" fill="#c88070"/><rect x="15" y="20" width="1.12" height="1.12" fill="#bc7c6a"/><rect x="16" y="20" width="1.12" height="1.12" fill="#96583b"/><rect x="17" y="20" width="1.12" height="1.12" fill="#935638"/><rect x="18" y="20" width="1.12" height="1.12" fill="#8f5537"/><rect x="19" y="20" width="1.12" height="1.12" fill="#925c40"/><rect x="20" y="20" width="1.12" height="1.12" fill="#ac8b7b"/><rect x="21" y="20" width="1.12" height="1.12" fill="#cbbdb7"/><rect x="22" y="20" width="1.12" height="1.12" fill="#d7cfcb"/><rect x="23" y="20" width="1.12" height="1.12" fill="#a69691"/><rect x="24" y="20" width="1.12" height="1.12" fill="#5b392d"/><rect x="25" y="20" width="1.12" height="1.12" fill="#653f30"/><rect x="26" y="20" width="1.12" height="1.12" fill="#875035"/><rect x="27" y="20" width="1.12" height="1.12" fill="#884f34"/><rect x="28" y="20" width="1.12" height="1.12" fill="#8e5235"/><rect x="29" y="20" width="1.12" height="1.12" fill="#8f5235"/><rect x="30" y="20" width="1.12" height="1.12" fill="#915637"/><rect x="31" y="20" width="3.12" height="1.12" fill="#925637"/><rect x="-2" y="21" width="3.12" height="1.12" fill="#6e3726"/><rect x="1" y="21" width="1.12" height="1.12" fill="#704138"/><rect x="2" y="21" width="1.12" height="1.12" fill="#8894b2"/><rect x="3" y="21" width="1.12" height="1.12" fill="#889abc"/><rect x="4" y="21" width="1.12" height="1.12" fill="#71a7dd"/><rect x="5" y="21" width="1.12" height="1.12" fill="#6ea7df"/><rect x="6" y="21" width="1.12" height="1.12" fill="#61a0d8"/><rect x="7" y="21" width="1.12" height="1.12" fill="#5e9dd4"/><rect x="8" y="21" width="1.12" height="1.12" fill="#4a7ca6"/><rect x="9" y="21" width="1.12" height="1.12" fill="#315981"/><rect x="10" y="21" width="1.12" height="1.12" fill="#274a71"/><rect x="11" y="21" width="1.12" height="1.12" fill="#375779"/><rect x="12" y="21" width="1.12" height="1.12" fill="#719bba"/><rect x="13" y="21" width="1.12" height="1.12" fill="#bd837b"/><rect x="14" y="21" width="1.12" height="1.12" fill="#c57e6f"/><rect x="15" y="21" width="1.12" height="1.12" fill="#b87969"/><rect x="16" y="21" width="1.12" height="1.12" fill="#96583b"/><rect x="17" y="21" width="1.12" height="1.12" fill="#945638"/><rect x="18" y="21" width="1.12" height="1.12" fill="#8e5335"/><rect x="19" y="21" width="1.12" height="1.12" fill="#8f573a"/><rect x="20" y="21" width="1.12" height="1.12" fill="#af8c79"/><rect x="21" y="21" width="1.12" height="1.12" fill="#d6ccc8"/><rect x="22" y="21" width="1.12" height="1.12" fill="#d5ccc8"/><rect x="23" y="21" width="1.12" height="1.12" fill="#a68c7c"/><rect x="24" y="21" width="1.12" height="1.12" fill="#8a5c44"/><rect x="25" y="21" width="1.12" height="1.12" fill="#88573f"/><rect x="26" y="21" width="1.12" height="1.12" fill="#774429"/><rect x="27" y="21" width="1.12" height="1.12" fill="#6a3c22"/><rect x="28" y="21" width="1.12" height="1.12" fill="#7d4429"/><rect x="29" y="21" width="1.12" height="1.12" fill="#7e4529"/><rect x="30" y="21" width="1.12" height="1.12" fill="#7f482c"/><rect x="31" y="21" width="3.12" height="1.12" fill="#80492c"/><rect x="-2" y="22" width="3.12" height="1.12" fill="#522722"/><rect x="1" y="22" width="1.12" height="1.12" fill="#593736"/><rect x="2" y="22" width="1.12" height="1.12" fill="#9ba1b9"/><rect x="3" y="22" width="1.12" height="1.12" fill="#9ba7c1"/><rect x="4" y="22" width="1.12" height="1.12" fill="#6da1d7"/><rect x="5" y="22" width="1.12" height="1.12" fill="#67a0d8"/><rect x="6" y="22" width="1.12" height="1.12" fill="#5a99d1"/><rect x="7" y="22" width="1.12" height="1.12" fill="#5898d0"/><rect x="8" y="22" width="1.12" height="1.12" fill="#4f8fc6"/><rect x="9" y="22" width="1.12" height="1.12" fill="#4279ac"/><rect x="10" y="22" width="1.12" height="1.12" fill="#30547d"/><rect x="11" y="22" width="1.12" height="1.12" fill="#436b93"/><rect x="12" y="22" width="1.12" height="1.12" fill="#6d9bc1"/><rect x="13" y="22" width="1.12" height="1.12" fill="#715064"/><rect x="14" y="22" width="1.12" height="1.12" fill="#713f4f"/><rect x="15" y="22" width="1.12" height="1.12" fill="#6f3e4b"/><rect x="16" y="22" width="1.12" height="1.12" fill="#925a3b"/><rect x="17" y="22" width="1.12" height="1.12" fill="#945b3b"/><rect x="18" y="22" width="1.12" height="1.12" fill="#905435"/><rect x="19" y="22" width="1.12" height="1.12" fill="#92583c"/><rect x="20" y="22" width="1.12" height="1.12" fill="#bfa79a"/><rect x="21" y="22" width="1.12" height="1.12" fill="#d8d0cc"/><rect x="22" y="22" width="1.12" height="1.12" fill="#bfada1"/><rect x="23" y="22" width="1.12" height="1.12" fill="#936d4f"/><rect x="24" y="22" width="1.12" height="1.12" fill="#704730"/><rect x="25" y="22" width="1.12" height="1.12" fill="#573520"/><rect x="26" y="22" width="1.12" height="1.12" fill="#492b17"/><rect x="27" y="22" width="1.12" height="1.12" fill="#58331c"/><rect x="28" y="22" width="1.12" height="1.12" fill="#6d4028"/><rect x="29" y="22" width="1.12" height="1.12" fill="#6e4028"/><rect x="30" y="22" width="1.12" height="1.12" fill="#5b3620"/><rect x="31" y="22" width="3.12" height="1.12" fill="#57351e"/><rect x="-2" y="23" width="3.12" height="1.12" fill="#4d2622"/><rect x="1" y="23" width="1.12" height="1.12" fill="#553636"/><rect x="2" y="23" width="1.12" height="1.12" fill="#9ca2b9"/><rect x="3" y="23" width="1.12" height="1.12" fill="#9da8c1"/><rect x="4" y="23" width="1.12" height="1.12" fill="#6da1d6"/><rect x="5" y="23" width="1.12" height="1.12" fill="#67a0d7"/><rect x="6" y="23" width="1.12" height="1.12" fill="#5898d1"/><rect x="7" y="23" width="1.12" height="1.12" fill="#5697cf"/><rect x="8" y="23" width="1.12" height="1.12" fill="#4f8ec6"/><rect x="9" y="23" width="1.12" height="1.12" fill="#3d72a4"/><rect x="10" y="23" width="1.12" height="1.12" fill="#3a628b"/><rect x="11" y="23" width="1.12" height="1.12" fill="#467099"/><rect x="12" y="23" width="1.12" height="1.12" fill="#6c9bc2"/><rect x="13" y="23" width="1.12" height="1.12" fill="#624e6a"/><rect x="14" y="23" width="1.12" height="1.12" fill="#5e354d"/><rect x="15" y="23" width="1.12" height="1.12" fill="#64394a"/><rect x="16" y="23" width="1.12" height="1.12" fill="#905a3c"/><rect x="17" y="23" width="1.12" height="1.12" fill="#935b3b"/><rect x="18" y="23" width="1.12" height="1.12" fill="#905437"/><rect x="19" y="23" width="1.12" height="1.12" fill="#92593d"/><rect x="20" y="23" width="1.12" height="1.12" fill="#c2aea4"/><rect x="21" y="23" width="1.12" height="1.12" fill="#d3c9c4"/><rect x="22" y="23" width="1.12" height="1.12" fill="#957862"/><rect x="23" y="23" width="1.12" height="1.12" fill="#65472e"/><rect x="24" y="23" width="1.12" height="1.12" fill="#482c17"/><rect x="25" y="23" width="1.12" height="1.12" fill="#4d2f1b"/><rect x="26" y="23" width="1.12" height="1.12" fill="#683e23"/><rect x="27" y="23" width="1.12" height="1.12" fill="#774728"/><rect x="28" y="23" width="1.12" height="1.12" fill="#633c24"/><rect x="29" y="23" width="1.12" height="1.12" fill="#5f3a23"/><rect x="30" y="23" width="1.12" height="1.12" fill="#3d2712"/><rect x="31" y="23" width="3.12" height="1.12" fill="#362410"/><rect x="-2" y="24" width="3.12" height="1.12" fill="#262226"/><rect x="1" y="24" width="1.12" height="1.12" fill="#363338"/><rect x="2" y="24" width="1.12" height="1.12" fill="#a2a2b2"/><rect x="3" y="24" width="1.12" height="1.12" fill="#a4a8bb"/><rect x="4" y="24" width="1.12" height="1.12" fill="#6da1d6"/><rect x="5" y="24" width="1.12" height="1.12" fill="#669fd7"/><rect x="6" y="24" width="1.12" height="1.12" fill="#4c92d1"/><rect x="7" y="24" width="1.12" height="1.12" fill="#498ecd"/><rect x="8" y="24" width="1.12" height="1.12" fill="#3d6ea0"/><rect x="9" y="24" width="1.12" height="1.12" fill="#2f5884"/><rect x="10" y="24" width="1.12" height="1.12" fill="#548ebd"/><rect x="11" y="24" width="1.12" height="1.12" fill="#5995c5"/><rect x="12" y="24" width="1.12" height="1.12" fill="#6198c8"/><rect x="13" y="24" width="1.12" height="1.12" fill="#5e90be"/><rect x="14" y="24" width="1.12" height="1.12" fill="#415475"/><rect x="15" y="24" width="1.12" height="1.12" fill="#474e69"/><rect x="16" y="24" width="1.12" height="1.12" fill="#7d5642"/><rect x="17" y="24" width="1.12" height="1.12" fill="#805740"/><rect x="18" y="24" width="1.12" height="1.12" fill="#865e46"/><rect x="19" y="24" width="1.12" height="1.12" fill="#885f48"/><rect x="20" y="24" width="1.12" height="1.12" fill="#8d6857"/><rect x="21" y="24" width="1.12" height="1.12" fill="#735a4b"/><rect x="22" y="24" width="1.12" height="1.12" fill="#482e1c"/><rect x="23" y="24" width="1.12" height="1.12" fill="#462a18"/><rect x="24" y="24" width="1.12" height="1.12" fill="#6a3d27"/><rect x="25" y="24" width="1.12" height="1.12" fill="#7f4a33"/><rect x="26" y="24" width="1.12" height="1.12" fill="#9b6b4b"/><rect x="27" y="24" width="1.12" height="1.12" fill="#7e563d"/><rect x="28" y="24" width="1.12" height="1.12" fill="#53371f"/><rect x="29" y="24" width="1.12" height="1.12" fill="#4e341b"/><rect x="30" y="24" width="4.12" height="1.12" fill="#48321b"/><rect x="-2" y="25" width="3.12" height="1.12" fill="#333134"/><rect x="1" y="25" width="1.12" height="1.12" fill="#403f44"/><rect x="2" y="25" width="1.12" height="1.12" fill="#a3a3b2"/><rect x="3" y="25" width="1.12" height="1.12" fill="#a5a8ba"/><rect x="4" y="25" width="1.12" height="1.12" fill="#6ea1d6"/><rect x="5" y="25" width="1.12" height="1.12" fill="#66a0d7"/><rect x="6" y="25" width="1.12" height="1.12" fill="#4b91d0"/><rect x="7" y="25" width="1.12" height="1.12" fill="#488dcc"/><rect x="8" y="25" width="1.12" height="1.12" fill="#406e9f"/><rect x="9" y="25" width="1.12" height="1.12" fill="#355d88"/><rect x="10" y="25" width="1.12" height="1.12" fill="#5793c4"/><rect x="11" y="25" width="1.12" height="1.12" fill="#5996c7"/><rect x="12" y="25" width="1.12" height="1.12" fill="#5e96c7"/><rect x="13" y="25" width="1.12" height="1.12" fill="#5d93c2"/><rect x="14" y="25" width="1.12" height="1.12" fill="#3d5578"/><rect x="15" y="25" width="1.12" height="1.12" fill="#424f6c"/><rect x="16" y="25" width="1.12" height="1.12" fill="#765547"/><rect x="17" y="25" width="1.12" height="1.12" fill="#7b5644"/><rect x="18" y="25" width="1.12" height="1.12" fill="#84614d"/><rect x="19" y="25" width="1.12" height="1.12" fill="#6d4f3d"/><rect x="20" y="25" width="1.12" height="1.12" fill="#513c2c"/><rect x="21" y="25" width="1.12" height="1.12" fill="#503d2e"/><rect x="22" y="25" width="1.12" height="1.12" fill="#523420"/><rect x="23" y="25" width="1.12" height="1.12" fill="#5e3a23"/><rect x="24" y="25" width="1.12" height="1.12" fill="#7d4831"/><rect x="25" y="25" width="1.12" height="1.12" fill="#824d35"/><rect x="26" y="25" width="1.12" height="1.12" fill="#a07151"/><rect x="27" y="25" width="1.12" height="1.12" fill="#825c42"/><rect x="28" y="25" width="1.12" height="1.12" fill="#52371f"/><rect x="29" y="25" width="1.12" height="1.12" fill="#4d331b"/><rect x="30" y="25" width="1.12" height="1.12" fill="#49341c"/><rect x="31" y="25" width="3.12" height="1.12" fill="#48341c"/><rect x="-2" y="26" width="3.12" height="1.12" fill="#a29b9b"/><rect x="1" y="26" width="1.12" height="1.12" fill="#a39c9d"/><rect x="2" y="26" width="1.12" height="1.12" fill="#afaeb6"/><rect x="3" y="26" width="1.12" height="1.12" fill="#acafba"/><rect x="4" y="26" width="1.12" height="1.12" fill="#75a8d6"/><rect x="5" y="26" width="1.12" height="1.12" fill="#6da6d7"/><rect x="6" y="26" width="1.12" height="1.12" fill="#4c8bca"/><rect x="7" y="26" width="1.12" height="1.12" fill="#4c89c8"/><rect x="8" y="26" width="1.12" height="1.12" fill="#6b94c5"/><rect x="9" y="26" width="1.12" height="1.12" fill="#6b93c3"/><rect x="10" y="26" width="1.12" height="1.12" fill="#4d83ba"/><rect x="11" y="26" width="1.12" height="1.12" fill="#4a82b9"/><rect x="12" y="26" width="1.12" height="1.12" fill="#4b82b9"/><rect x="13" y="26" width="1.12" height="1.12" fill="#497eb5"/><rect x="14" y="26" width="1.12" height="1.12" fill="#2e4776"/><rect x="15" y="26" width="1.12" height="1.12" fill="#2c416f"/><rect x="16" y="26" width="1.12" height="1.12" fill="#384267"/><rect x="17" y="26" width="1.12" height="1.12" fill="#404566"/><rect x="18" y="26" width="1.12" height="1.12" fill="#7c666e"/><rect x="19" y="26" width="1.12" height="1.12" fill="#70585a"/><rect x="20" y="26" width="1.12" height="1.12" fill="#512e1f"/><rect x="21" y="26" width="1.12" height="1.12" fill="#613626"/><rect x="22" y="26" width="1.12" height="1.12" fill="#7c4d31"/><rect x="23" y="26" width="1.12" height="1.12" fill="#7d4e31"/><rect x="24" y="26" width="1.12" height="1.12" fill="#724f32"/><rect x="25" y="26" width="1.12" height="1.12" fill="#78563a"/><rect x="26" y="26" width="1.12" height="1.12" fill="#ba9979"/><rect x="27" y="26" width="1.12" height="1.12" fill="#967c63"/><rect x="28" y="26" width="1.12" height="1.12" fill="#413224"/><rect x="29" y="26" width="1.12" height="1.12" fill="#372a1c"/><rect x="30" y="26" width="1.12" height="1.12" fill="#403327"/><rect x="31" y="26" width="3.12" height="1.12" fill="#413428"/><rect x="-2" y="27" width="3.12" height="1.12" fill="#a9a1a1"/><rect x="1" y="27" width="1.12" height="1.12" fill="#a9a2a2"/><rect x="2" y="27" width="1.12" height="1.12" fill="#afafb6"/><rect x="3" y="27" width="1.12" height="1.12" fill="#acafba"/><rect x="4" y="27" width="1.12" height="1.12" fill="#74a7d5"/><rect x="5" y="27" width="1.12" height="1.12" fill="#6ca5d6"/><rect x="6" y="27" width="1.12" height="1.12" fill="#4d8bc9"/><rect x="7" y="27" width="1.12" height="1.12" fill="#4d8ac8"/><rect x="8" y="27" width="1.12" height="1.12" fill="#6b95c7"/><rect x="9" y="27" width="1.12" height="1.12" fill="#6b95c6"/><rect x="10" y="27" width="1.12" height="1.12" fill="#4b81b8"/><rect x="11" y="27" width="2.12" height="1.12" fill="#487fb7"/><rect x="13" y="27" width="1.12" height="1.12" fill="#477cb3"/><rect x="14" y="27" width="1.12" height="1.12" fill="#2e4979"/><rect x="15" y="27" width="1.12" height="1.12" fill="#2c4373"/><rect x="16" y="27" width="1.12" height="1.12" fill="#32436e"/><rect x="17" y="27" width="1.12" height="1.12" fill="#3a466d"/><rect x="18" y="27" width="1.12" height="1.12" fill="#78636d"/><rect x="19" y="27" width="1.12" height="1.12" fill="#7a6269"/><rect x="20" y="27" width="1.12" height="1.12" fill="#63382a"/><rect x="21" y="27" width="1.12" height="1.12" fill="#643623"/><rect x="22" y="27" width="1.12" height="1.12" fill="#805033"/><rect x="23" y="27" width="1.12" height="1.12" fill="#825235"/><rect x="24" y="27" width="1.12" height="1.12" fill="#7f6142"/><rect x="25" y="27" width="1.12" height="1.12" fill="#ac966f"/><rect x="26" y="27" width="1.12" height="1.12" fill="#c6ac87"/><rect x="27" y="27" width="1.12" height="1.12" fill="#957c63"/><rect x="28" y="27" width="1.12" height="1.12" fill="#423324"/><rect x="29" y="27" width="1.12" height="1.12" fill="#382b1d"/><rect x="30" y="27" width="1.12" height="1.12" fill="#413428"/><rect x="31" y="27" width="3.12" height="1.12" fill="#413529"/><rect x="-2" y="28" width="3.12" height="1.12" fill="#b0a8a8"/><rect x="1" y="28" width="1.12" height="1.12" fill="#afa8a8"/><rect x="2" y="28" width="1.12" height="1.12" fill="#a9a9b0"/><rect x="3" y="28" width="1.12" height="1.12" fill="#a5a7b2"/><rect x="4" y="28" width="1.12" height="1.12" fill="#6394c7"/><rect x="5" y="28" width="1.12" height="1.12" fill="#5b92c9"/><rect x="6" y="28" width="1.12" height="1.12" fill="#5990c8"/><rect x="7" y="28" width="1.12" height="1.12" fill="#588fc7"/><rect x="8" y="28" width="1.12" height="1.12" fill="#4d83ba"/><rect x="9" y="28" width="1.12" height="1.12" fill="#4b81b8"/><rect x="10" y="28" width="1.12" height="1.12" fill="#4172aa"/><rect x="11" y="28" width="2.12" height="1.12" fill="#4171a9"/><rect x="13" y="28" width="1.12" height="1.12" fill="#4070a8"/><rect x="14" y="28" width="2.12" height="1.12" fill="#3a6697"/><rect x="16" y="28" width="1.12" height="1.12" fill="#3266a3"/><rect x="17" y="28" width="1.12" height="1.12" fill="#3263a0"/><rect x="18" y="28" width="1.12" height="1.12" fill="#2d3b4e"/><rect x="19" y="28" width="1.12" height="1.12" fill="#333842"/><rect x="20" y="28" width="1.12" height="1.12" fill="#6b3f25"/><rect x="21" y="28" width="1.12" height="1.12" fill="#734326"/><rect x="22" y="28" width="1.12" height="1.12" fill="#9b6b4b"/><rect x="23" y="28" width="1.12" height="1.12" fill="#a27553"/><rect x="24" y="28" width="1.12" height="1.12" fill="#cdbb8d"/><rect x="25" y="28" width="1.12" height="1.12" fill="#d8c898"/><rect x="26" y="28" width="1.12" height="1.12" fill="#d3c394"/><rect x="27" y="28" width="1.12" height="1.12" fill="#625239"/><rect x="28" y="28" width="1.12" height="1.12" fill="#593f29"/><rect x="29" y="28" width="1.12" height="1.12" fill="#583f28"/><rect x="30" y="28" width="1.12" height="1.12" fill="#4e3b29"/><rect x="31" y="28" width="3.12" height="1.12" fill="#4d3b29"/><rect x="-2" y="29" width="3.12" height="1.12" fill="#b0a8a8"/><rect x="1" y="29" width="1.12" height="1.12" fill="#b0a8a9"/><rect x="2" y="29" width="1.12" height="1.12" fill="#a8a8af"/><rect x="3" y="29" width="1.12" height="1.12" fill="#a3a6b1"/><rect x="4" y="29" width="1.12" height="1.12" fill="#5f90c5"/><rect x="5" y="29" width="1.12" height="1.12" fill="#588ec6"/><rect x="6" y="29" width="1.12" height="1.12" fill="#598fc7"/><rect x="7" y="29" width="1.12" height="1.12" fill="#588ec6"/><rect x="8" y="29" width="1.12" height="1.12" fill="#4980b8"/><rect x="9" y="29" width="1.12" height="1.12" fill="#487eb6"/><rect x="10" y="29" width="1.12" height="1.12" fill="#4070a9"/><rect x="11" y="29" width="2.12" height="1.12" fill="#406fa7"/><rect x="13" y="29" width="1.12" height="1.12" fill="#3f6ea6"/><rect x="14" y="29" width="1.12" height="1.12" fill="#3b6799"/><rect x="15" y="29" width="1.12" height="1.12" fill="#3a6799"/><rect x="16" y="29" width="1.12" height="1.12" fill="#3267a5"/><rect x="17" y="29" width="1.12" height="1.12" fill="#3164a1"/><rect x="18" y="29" width="1.12" height="1.12" fill="#23374b"/><rect x="19" y="29" width="1.12" height="1.12" fill="#2a333e"/><rect x="20" y="29" width="1.12" height="1.12" fill="#6d3f24"/><rect x="21" y="29" width="1.12" height="1.12" fill="#754426"/><rect x="22" y="29" width="1.12" height="1.12" fill="#9d6b4b"/><rect x="23" y="29" width="1.12" height="1.12" fill="#a37553"/><rect x="24" y="29" width="1.12" height="1.12" fill="#cab88a"/><rect x="25" y="29" width="1.12" height="1.12" fill="#d2c293"/><rect x="26" y="29" width="1.12" height="1.12" fill="#baaa7f"/><rect x="27" y="29" width="1.12" height="1.12" fill="#55462d"/><rect x="28" y="29" width="2.12" height="1.12" fill="#5a4029"/><rect x="30" y="29" width="1.12" height="1.12" fill="#523d29"/><rect x="31" y="29" width="3.12" height="1.12" fill="#513d29"/><rect x="-2" y="30" width="3.12" height="1.12" fill="#b0a8a8"/><rect x="1" y="30" width="1.12" height="1.12" fill="#afa8a8"/><rect x="2" y="30" width="1.12" height="1.12" fill="#a2a1a9"/><rect x="3" y="30" width="1.12" height="1.12" fill="#9c9ea9"/><rect x="4" y="30" width="1.12" height="1.12" fill="#4576b1"/><rect x="5" y="30" width="1.12" height="1.12" fill="#3c73b2"/><rect x="6" y="30" width="1.12" height="1.12" fill="#4980b9"/><rect x="7" y="30" width="1.12" height="1.12" fill="#4980b8"/><rect x="8" y="30" width="1.12" height="1.12" fill="#3d72aa"/><rect x="9" y="30" width="1.12" height="1.12" fill="#3c70a9"/><rect x="10" y="30" width="1.12" height="1.12" fill="#3b69a1"/><rect x="11" y="30" width="1.12" height="1.12" fill="#3b68a0"/><rect x="12" y="30" width="1.12" height="1.12" fill="#3b629a"/><rect x="13" y="30" width="1.12" height="1.12" fill="#3b6199"/><rect x="14" y="30" width="1.12" height="1.12" fill="#335a91"/><rect x="15" y="30" width="1.12" height="1.12" fill="#325991"/><rect x="16" y="30" width="1.12" height="1.12" fill="#2b5992"/><rect x="17" y="30" width="1.12" height="1.12" fill="#2a578e"/><rect x="18" y="30" width="1.12" height="1.12" fill="#223548"/><rect x="19" y="30" width="1.12" height="1.12" fill="#2c333e"/><rect x="20" y="30" width="1.12" height="1.12" fill="#7b3f28"/><rect x="21" y="30" width="1.12" height="1.12" fill="#824127"/><rect x="22" y="30" width="1.12" height="1.12" fill="#9e5134"/><rect x="23" y="30" width="1.12" height="1.12" fill="#9e5336"/><rect x="24" y="30" width="1.12" height="1.12" fill="#7c6847"/><rect x="25" y="30" width="1.12" height="1.12" fill="#796948"/><rect x="26" y="30" width="1.12" height="1.12" fill="#726242"/><rect x="27" y="30" width="1.12" height="1.12" fill="#5a4d32"/><rect x="28" y="30" width="1.12" height="1.12" fill="#504129"/><rect x="29" y="30" width="1.12" height="1.12" fill="#524129"/><rect x="30" y="30" width="1.12" height="1.12" fill="#654d32"/><rect x="31" y="30" width="3.12" height="1.12" fill="#674d33"/><rect x="-2" y="31" width="3.12" height="1.12" fill="#b0a8a8"/><rect x="1" y="31" width="1.12" height="1.12" fill="#afa8a8"/><rect x="2" y="31" width="1.12" height="1.12" fill="#a1a1a8"/><rect x="3" y="31" width="1.12" height="1.12" fill="#9b9da9"/><rect x="4" y="31" width="1.12" height="1.12" fill="#4374b0"/><rect x="5" y="31" width="1.12" height="1.12" fill="#3971b1"/><rect x="6" y="31" width="2.12" height="1.12" fill="#487fb7"/><rect x="8" y="31" width="1.12" height="1.12" fill="#3c71a9"/><rect x="9" y="31" width="1.12" height="1.12" fill="#3b6fa8"/><rect x="10" y="31" width="1.12" height="1.12" fill="#3b68a1"/><rect x="11" y="31" width="1.12" height="1.12" fill="#3b67a0"/><rect x="12" y="31" width="1.12" height="1.12" fill="#3b6199"/><rect x="13" y="31" width="1.12" height="1.12" fill="#3b6097"/><rect x="14" y="31" width="1.12" height="1.12" fill="#325991"/><rect x="15" y="31" width="1.12" height="1.12" fill="#325890"/><rect x="16" y="31" width="1.12" height="1.12" fill="#2a5890"/><rect x="17" y="31" width="1.12" height="1.12" fill="#2a568c"/><rect x="18" y="31" width="1.12" height="1.12" fill="#223548"/><rect x="19" y="31" width="1.12" height="1.12" fill="#2c333e"/><rect x="20" y="31" width="1.12" height="1.12" fill="#7c3f28"/><rect x="21" y="31" width="1.12" height="1.12" fill="#824127"/><rect x="22" y="31" width="1.12" height="1.12" fill="#9e4e31"/><rect x="23" y="31" width="1.12" height="1.12" fill="#9d5033"/><rect x="24" y="31" width="1.12" height="1.12" fill="#745f3f"/><rect x="25" y="31" width="2.12" height="1.12" fill="#706040"/><rect x="27" y="31" width="1.12" height="1.12" fill="#5b4d33"/><rect x="28" y="31" width="1.12" height="1.12" fill="#4f4129"/><rect x="29" y="31" width="1.12" height="1.12" fill="#514129"/><rect x="30" y="31" width="1.12" height="1.12" fill="#674d33"/><rect x="31" y="31" width="3.12" height="1.12" fill="#684e34"/><rect x="-2" y="32" width="3.12" height="1.12" fill="#b0a8a8"/><rect x="1" y="32" width="1.12" height="1.12" fill="#afa8a8"/><rect x="2" y="32" width="1.12" height="1.12" fill="#a1a1a8"/><rect x="3" y="32" width="1.12" height="1.12" fill="#9b9da9"/><rect x="4" y="32" width="1.12" height="1.12" fill="#4374b0"/><rect x="5" y="32" width="1.12" height="1.12" fill="#3971b1"/><rect x="6" y="32" width="2.12" height="1.12" fill="#487fb7"/><rect x="8" y="32" width="1.12" height="1.12" fill="#3c71a9"/><rect x="9" y="32" width="1.12" height="1.12" fill="#3b6fa8"/><rect x="10" y="32" width="1.12" height="1.12" fill="#3b68a1"/><rect x="11" y="32" width="1.12" height="1.12" fill="#3b67a0"/><rect x="12" y="32" width="1.12" height="1.12" fill="#3b6199"/><rect x="13" y="32" width="1.12" height="1.12" fill="#3b6097"/><rect x="14" y="32" width="1.12" height="1.12" fill="#325991"/><rect x="15" y="32" width="1.12" height="1.12" fill="#325890"/><rect x="16" y="32" width="1.12" height="1.12" fill="#2a5890"/><rect x="17" y="32" width="1.12" height="1.12" fill="#2a568c"/><rect x="18" y="32" width="1.12" height="1.12" fill="#223548"/><rect x="19" y="32" width="1.12" height="1.12" fill="#2c333e"/><rect x="20" y="32" width="1.12" height="1.12" fill="#7c3f28"/><rect x="21" y="32" width="1.12" height="1.12" fill="#824127"/><rect x="22" y="32" width="1.12" height="1.12" fill="#9e4e31"/><rect x="23" y="32" width="1.12" height="1.12" fill="#9d5033"/><rect x="24" y="32" width="1.12" height="1.12" fill="#745f3f"/><rect x="25" y="32" width="2.12" height="1.12" fill="#706040"/><rect x="27" y="32" width="1.12" height="1.12" fill="#5b4d33"/><rect x="28" y="32" width="1.12" height="1.12" fill="#4f4129"/><rect x="29" y="32" width="1.12" height="1.12" fill="#514129"/><rect x="30" y="32" width="1.12" height="1.12" fill="#674d33"/><rect x="31" y="32" width="3.12" height="1.12" fill="#684e34"/><rect x="-2" y="33" width="3.12" height="1.12" fill="#b0a8a8"/><rect x="1" y="33" width="1.12" height="1.12" fill="#afa8a8"/><rect x="2" y="33" width="1.12" height="1.12" fill="#a1a1a8"/><rect x="3" y="33" width="1.12" height="1.12" fill="#9b9da9"/><rect x="4" y="33" width="1.12" height="1.12" fill="#4374b0"/><rect x="5" y="33" width="1.12" height="1.12" fill="#3971b1"/><rect x="6" y="33" width="2.12" height="1.12" fill="#487fb7"/><rect x="8" y="33" width="1.12" height="1.12" fill="#3c71a9"/><rect x="9" y="33" width="1.12" height="1.12" fill="#3b6fa8"/><rect x="10" y="33" width="1.12" height="1.12" fill="#3b68a1"/><rect x="11" y="33" width="1.12" height="1.12" fill="#3b67a0"/><rect x="12" y="33" width="1.12" height="1.12" fill="#3b6199"/><rect x="13" y="33" width="1.12" height="1.12" fill="#3b6097"/><rect x="14" y="33" width="1.12" height="1.12" fill="#325991"/><rect x="15" y="33" width="1.12" height="1.12" fill="#325890"/><rect x="16" y="33" width="1.12" height="1.12" fill="#2a5890"/><rect x="17" y="33" width="1.12" height="1.12" fill="#2a568c"/><rect x="18" y="33" width="1.12" height="1.12" fill="#223548"/><rect x="19" y="33" width="1.12" height="1.12" fill="#2c333e"/><rect x="20" y="33" width="1.12" height="1.12" fill="#7c3f28"/><rect x="21" y="33" width="1.12" height="1.12" fill="#824127"/><rect x="22" y="33" width="1.12" height="1.12" fill="#9e4e31"/><rect x="23" y="33" width="1.12" height="1.12" fill="#9d5033"/><rect x="24" y="33" width="1.12" height="1.12" fill="#745f3f"/><rect x="25" y="33" width="2.12" height="1.12" fill="#706040"/><rect x="27" y="33" width="1.12" height="1.12" fill="#5b4d33"/><rect x="28" y="33" width="1.12" height="1.12" fill="#4f4129"/><rect x="29" y="33" width="1.12" height="1.12" fill="#514129"/><rect x="30" y="33" width="1.12" height="1.12" fill="#674d33"/><rect x="31" y="33" width="3.12" height="1.12" fill="#684e34"/></g>
<filter id="b0" x="-20%" y="-20%" width="140%" height="140%"><feGaussianBlur stdDeviation="0.2"/></filter>
<filter id="b1" x="-20%" y="-20%" width="140%" height="140%"><feGaussianBlur stdDeviation="0.3"/></filter>
<filter id="b2" x="-20%" y="-20%" width="140%" height="140%"><feGaussianBlur stdDeviation="0.42"/></filter>
<filter id="b3" x="-20%" y="-20%" width="140%" height="140%"><feGaussianBlur stdDeviation="0.6"/></filter>
</defs>
<text x="46.3" y="1442.5" font-size="38" fill="#000" text-anchor="start" font-weight="bold">D</text>
<text x="147.5" y="1465.0" font-size="39" fill="#000" text-anchor="start" textLength="207.7" lengthAdjust="spacingAndGlyphs">Input Image</text>
<svg x="148.1" y="1505.7" width="209.0" height="208.6" viewBox="0 0 32 32" preserveAspectRatio="none"><g><use href="#photo"/></g></svg>
<text x="689.5" y="1400.6" font-size="40" fill="#000" text-anchor="start" textLength="81.9" lengthAdjust="spacingAndGlyphs">High</text>
<text x="849.5" y="1401.5" font-size="40" fill="#000" text-anchor="start" textLength="346.5" lengthAdjust="spacingAndGlyphs">Rate (devices/pixel)</text>
<text x="1277.5" y="1400.6" font-size="40" fill="#000" text-anchor="start">Low</text>
<path d="M676.2,1414.4 L1324.2,1414.4 L1324.2,1408.8 L1335.8,1419.6 L1324.2,1430.5 L1324.2,1424.6 L676.2,1424.6 Z" fill="#000" stroke="#2f5597" stroke-width="1.6"/>
<line x1="356.7" y1="1609.4" x2="660.1" y2="1609.4" stroke="#0000ff" stroke-width="4.6"/>
<polyline points="632.3000000000001,1593.2 660.6,1609.4 632.3000000000001,1625.6000000000001" fill="none" stroke="#0000ff" stroke-width="4.6" stroke-linecap="round" stroke-linejoin="round"/>
<text x="503.5" y="1497.7" font-size="39.4" fill="#0000ff" text-anchor="middle" textLength="231.0" lengthAdjust="spacingAndGlyphs">Write-verified</text>
<text x="504.4" y="1544.6" font-size="39.4" fill="#0000ff" text-anchor="middle" textLength="115.0" lengthAdjust="spacingAndGlyphs">RRAM</text>
<text x="504.8" y="1591.5" font-size="39.4" fill="#0000ff" text-anchor="middle" textLength="187.8" lengthAdjust="spacingAndGlyphs">(opt. MSE)</text>
<line x1="663.4" y1="1494.6" x2="1356.8999999999999" y2="1494.6" stroke="#0000ff" stroke-width="4.6" stroke-dasharray="17.3 13.1" stroke-dashoffset="-15.1"/>
<line x1="1354.6" y1="1492.3" x2="1354.6" y2="1725.8999999999999" stroke="#0000ff" stroke-width="4.6" stroke-dasharray="17.3 13.1" stroke-dashoffset="4.9"/>
<line x1="661.1" y1="1723.6" x2="1356.8999999999999" y2="1723.6" stroke="#0000ff" stroke-width="4.6" stroke-dasharray="17.3 13.1" stroke-dashoffset="0.3"/>
<line x1="663.4" y1="1492.3" x2="663.4" y2="1725.8999999999999" stroke="#0000ff" stroke-width="4.6" stroke-dasharray="17.3 13.1" stroke-dashoffset="-1.5"/>
<svg x="673.0" y="1504.6" width="208.3" height="207.9" viewBox="0 0 32 32" preserveAspectRatio="none"><g filter="url(#b1)"><use href="#photo"/></g></svg>
<svg x="906.9" y="1506.6" width="209.1" height="207.8" viewBox="0 0 32 32" preserveAspectRatio="none"><g filter="url(#b2)"><use href="#photo"/></g></svg>
<svg x="1134.5" y="1504.7" width="209.1" height="207.9" viewBox="0 0 32 32" preserveAspectRatio="none"><g filter="url(#b3)"><use href="#photo"/></g></svg>
<text x="768.2" y="1475.6" font-size="39" fill="#0000ff" text-anchor="middle" textLength="76.4" lengthAdjust="spacingAndGlyphs">0.33</text>
<text x="1005.0" y="1475.6" font-size="39" fill="#0000ff" text-anchor="middle" textLength="77.4" lengthAdjust="spacingAndGlyphs">0.22</text>
<text x="1241.8" y="1475.6" font-size="39" fill="#0000ff" text-anchor="middle" textLength="74.4" lengthAdjust="spacingAndGlyphs">0.11</text>
<line x1="252.4" y1="1714" x2="252.4" y2="2254.7" stroke="#ed9614" stroke-width="3.7"/>
<line x1="252.4" y1="1920.7" x2="660.4" y2="1920.7" stroke="#ff0000" stroke-width="4.6"/>
<polyline points="632.6,1904.5 660.9,1920.7 632.6,1936.9" fill="none" stroke="#ff0000" stroke-width="4.6" stroke-linecap="round" stroke-linejoin="round"/>
<text x="469.9" y="1759.5" font-size="39.4" fill="#ff0000" text-anchor="middle" textLength="161.5" lengthAdjust="spacingAndGlyphs">One-shot</text>
<text x="470.0" y="1806.0" font-size="39.4" fill="#ff0000" text-anchor="middle" textLength="223.5" lengthAdjust="spacingAndGlyphs">programmed</text>
<text x="470.3" y="1852.5" font-size="39.4" fill="#ff0000" text-anchor="middle" textLength="89.7" lengthAdjust="spacingAndGlyphs">PCM</text>
<text x="470.9" y="1899.0" font-size="39.4" fill="#ff0000" text-anchor="middle" textLength="187.8" lengthAdjust="spacingAndGlyphs">(opt. MSE)</text>
<line x1="663.5" y1="1806.0" x2="1356.8999999999999" y2="1806.0" stroke="#ff0000" stroke-width="4.6" stroke-dasharray="17.3 13.1" stroke-dashoffset="-15.1"/>
<line x1="1354.6" y1="1803.7" x2="1354.6" y2="2037.1" stroke="#ff0000" stroke-width="4.6" stroke-dasharray="17.3 13.1" stroke-dashoffset="4.9"/>
<line x1="661.2" y1="2034.8" x2="1356.8999999999999" y2="2034.8" stroke="#ff0000" stroke-width="4.6" stroke-dasharray="17.3 13.1" stroke-dashoffset="0.3"/>
<line x1="663.5" y1="1803.7" x2="663.5" y2="2037.1" stroke="#ff0000" stroke-width="4.6" stroke-dasharray="17.3 13.1" stroke-dashoffset="-1.5"/>
<svg x="679.0" y="1817.0" width="208.7" height="208.5" viewBox="0 0 32 32" preserveAspectRatio="none"><g filter="url(#b1)"><use href="#photo"/></g></svg>
<svg x="905.0" y="1817.0" width="208.4" height="208.5" viewBox="0 0 32 32" preserveAspectRatio="none"><g filter="url(#b2)"><use href="#photo"/></g></svg>
<svg x="1134.7" y="1817.0" width="208.9" height="208.5" viewBox="0 0 32 32" preserveAspectRatio="none"><g filter="url(#b3)"><use href="#photo"/></g></svg>
<text x="770.4" y="1796.7" font-size="39" fill="#ff0000" text-anchor="middle" textLength="75.7" lengthAdjust="spacingAndGlyphs">0.44</text>
<text x="1004.6" y="1796.7" font-size="39" fill="#ff0000" text-anchor="middle" textLength="74.7" lengthAdjust="spacingAndGlyphs">0.22</text>
<text x="1241.1" y="1796.7" font-size="39" fill="#ff0000" text-anchor="middle" textLength="72.3" lengthAdjust="spacingAndGlyphs">0.11</text>
<line x1="250.6" y1="2252.9" x2="660.4" y2="2252.9" stroke="#ed9614" stroke-width="3.7"/>
<polyline points="632.1,2236.8 660.9,2252.9 632.1,2269.2" fill="none" stroke="#ed9614" stroke-width="4.4" stroke-linecap="round" stroke-linejoin="round"/>
<text x="484.6" y="2170.4" font-size="39.4" fill="#ed9614" text-anchor="middle" textLength="117.6" lengthAdjust="spacingAndGlyphs">WEBP</text>
<text x="484.3" y="2217.7" font-size="39.4" fill="#ed9614" text-anchor="middle" textLength="301.2" lengthAdjust="spacingAndGlyphs">(3.82 bits/device)</text>
<line x1="663.0" y1="2138.6" x2="1356.8999999999999" y2="2138.6" stroke="#ed9614" stroke-width="4.6" stroke-dasharray="17.3 13.1" stroke-dashoffset="-15.1"/>
<line x1="1354.6" y1="2136.2999999999997" x2="1354.6" y2="2369.7000000000003" stroke="#ed9614" stroke-width="4.6" stroke-dasharray="17.3 13.1" stroke-dashoffset="4.9"/>
<line x1="660.7" y1="2367.4" x2="1356.8999999999999" y2="2367.4" stroke="#ed9614" stroke-width="4.6" stroke-dasharray="17.3 13.1" stroke-dashoffset="0.3"/>
<line x1="663.0" y1="2136.2999999999997" x2="663.0" y2="2369.7000000000003" stroke="#ed9614" stroke-width="4.6" stroke-dasharray="17.3 13.1" stroke-dashoffset="-1.5"/>
<svg x="673.7" y="2149.3" width="208.6" height="208.4" viewBox="0 0 32 32" preserveAspectRatio="none"><g filter="url(#b1)"><use href="#photo"/></g></svg>
<svg x="905.0" y="2149.3" width="208.4" height="208.4" viewBox="0 0 32 32" preserveAspectRatio="none"><g filter="url(#b2)"><use href="#photo"/></g></svg>
<svg x="1134.3" y="2149.3" width="209.3" height="208.4" viewBox="0 0 32 32" preserveAspectRatio="none"><g filter="url(#b3)"><use href="#photo"/></g></svg>
<text x="775.8" y="2126.5" font-size="39" fill="#ed9614" text-anchor="middle" textLength="77.3" lengthAdjust="spacingAndGlyphs">0.33</text>
<text x="1010.8" y="2126.5" font-size="39" fill="#ed9614" text-anchor="middle" textLength="76.8" lengthAdjust="spacingAndGlyphs">0.22</text>
<text x="1248.9" y="2126.5" font-size="39" fill="#ed9614" text-anchor="middle" textLength="73.4" lengthAdjust="spacingAndGlyphs">0.11</text>
</g></svg></body></html>
